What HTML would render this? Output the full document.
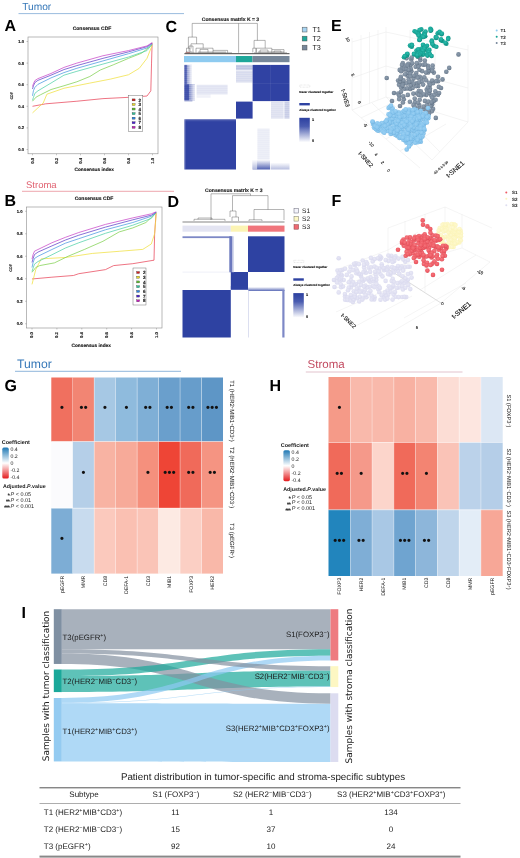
<!DOCTYPE html>
<html lang="en"><head><meta charset="utf-8"><title>Figure</title>
<style>
html,body{margin:0;padding:0;background:#fff;}
body{width:520px;height:858px;overflow:hidden;}
svg{display:block;}
text{font-family:"Liberation Sans", Arial, sans-serif;fill:#1a1a1a;text-rendering:geometricPrecision;}
.b{font-weight:bold;}
.t{stroke:#1a1a1a;stroke-width:0.14;}
.dj{font-family:"DejaVu Sans","Liberation Sans",sans-serif;}
</style></head><body>
<svg width="520" height="858" viewBox="0 0 520 858">
<defs>
<linearGradient id="gblue" x1="0" y1="0" x2="0" y2="1"><stop offset="0" stop-color="#2c40a0"/><stop offset="0.35" stop-color="#4a5cb0"/><stop offset="1" stop-color="#ffffff"/></linearGradient>
<linearGradient id="gcoef" x1="0" y1="0" x2="0" y2="1"><stop offset="0" stop-color="#1f78b4"/><stop offset="0.5" stop-color="#ffffff"/><stop offset="1" stop-color="#e31a1c"/></linearGradient>
<linearGradient id="fadeR" x1="0" y1="0" x2="1" y2="0"><stop offset="0" stop-color="#3044a4"/><stop offset="1" stop-color="#3044a4" stop-opacity="0"/></linearGradient>
<linearGradient id="fadeU" x1="0" y1="1" x2="0" y2="0"><stop offset="0" stop-color="#3044a4"/><stop offset="1" stop-color="#3044a4" stop-opacity="0"/></linearGradient>
<linearGradient id="fadeD" x1="0" y1="0" x2="0" y2="1"><stop offset="0" stop-color="#3044a4"/><stop offset="1" stop-color="#3044a4" stop-opacity="0"/></linearGradient>
</defs>
<rect width="520" height="858" fill="#fff"/>

<text x="22.2" y="10.4" font-size="10.2" style="fill:#3577b8">Tumor</text>
<line x1="18.5" y1="13.6" x2="184" y2="13.6" stroke="#6f9fd0" stroke-width="0.7"/>
<text x="26" y="187.5" font-size="9.5" style="fill:#e0606f">Stroma</text>
<line x1="22" y1="191.3" x2="174" y2="191.3" stroke="#e57f8b" stroke-width="0.7"/>
<text x="17" y="367.5" font-size="12.2" style="fill:#3577b8">Tumor</text>
<line x1="15" y1="371.3" x2="181" y2="371.3" stroke="#5f95cc" stroke-width="0.7"/>
<text x="307.6" y="368.3" font-size="11.5" style="fill:#c24a60">Stroma</text>
<line x1="305.8" y1="372" x2="462.5" y2="372" stroke="#dbb4c0" stroke-width="0.8"/>
<text class="b" x="4.5" y="31.2" font-size="16" style="fill:#000">A</text>
<text class="b" x="165.5" y="32" font-size="16" style="fill:#000">C</text>
<text class="b" x="331" y="31.2" font-size="16" style="fill:#000">E</text>
<text class="b" x="4.5" y="205.6" font-size="16" style="fill:#000">B</text>
<text class="b" x="167.5" y="207" font-size="16" style="fill:#000">D</text>
<text class="b" x="331.5" y="206" font-size="16" style="fill:#000">F</text>
<text class="b" x="4.5" y="390.6" font-size="16" style="fill:#000">G</text>
<text class="b" x="269.5" y="390.5" font-size="16" style="fill:#000">H</text>
<text class="b" x="21.5" y="618" font-size="16" style="fill:#000">I</text>
<rect x="28" y="37" width="130" height="116.80000000000001" fill="none" stroke="#8a8a8a" stroke-width="0.6"/>
<text class="b t" x="92" y="29.6" font-size="5" text-anchor="middle">Consensus CDF</text>
<line x1="26.5" y1="149.50" x2="28" y2="149.50" stroke="#777" stroke-width="0.4"/>
<text class="b t" x="24" y="151.00" font-size="4.15" text-anchor="end">0.0</text>
<line x1="32.50" y1="153.8" x2="32.50" y2="155.3" stroke="#777" stroke-width="0.4"/>
<text class="b t" transform="translate(33.90,160.8) rotate(-90)" font-size="4.15" text-anchor="middle">0.0</text>
<line x1="26.5" y1="127.90" x2="28" y2="127.90" stroke="#777" stroke-width="0.4"/>
<text class="b t" x="24" y="129.40" font-size="4.15" text-anchor="end">0.2</text>
<line x1="56.50" y1="153.8" x2="56.50" y2="155.3" stroke="#777" stroke-width="0.4"/>
<text class="b t" transform="translate(57.90,160.8) rotate(-90)" font-size="4.15" text-anchor="middle">0.2</text>
<line x1="26.5" y1="106.30" x2="28" y2="106.30" stroke="#777" stroke-width="0.4"/>
<text class="b t" x="24" y="107.80" font-size="4.15" text-anchor="end">0.4</text>
<line x1="80.50" y1="153.8" x2="80.50" y2="155.3" stroke="#777" stroke-width="0.4"/>
<text class="b t" transform="translate(81.90,160.8) rotate(-90)" font-size="4.15" text-anchor="middle">0.4</text>
<line x1="26.5" y1="84.70" x2="28" y2="84.70" stroke="#777" stroke-width="0.4"/>
<text class="b t" x="24" y="86.20" font-size="4.15" text-anchor="end">0.6</text>
<line x1="104.50" y1="153.8" x2="104.50" y2="155.3" stroke="#777" stroke-width="0.4"/>
<text class="b t" transform="translate(105.90,160.8) rotate(-90)" font-size="4.15" text-anchor="middle">0.6</text>
<line x1="26.5" y1="63.10" x2="28" y2="63.10" stroke="#777" stroke-width="0.4"/>
<text class="b t" x="24" y="64.60" font-size="4.15" text-anchor="end">0.8</text>
<line x1="128.50" y1="153.8" x2="128.50" y2="155.3" stroke="#777" stroke-width="0.4"/>
<text class="b t" transform="translate(129.90,160.8) rotate(-90)" font-size="4.15" text-anchor="middle">0.8</text>
<line x1="26.5" y1="41.50" x2="28" y2="41.50" stroke="#777" stroke-width="0.4"/>
<text class="b t" x="24" y="43.00" font-size="4.15" text-anchor="end">1.0</text>
<line x1="152.50" y1="153.8" x2="152.50" y2="155.3" stroke="#777" stroke-width="0.4"/>
<text class="b t" transform="translate(153.90,160.8) rotate(-90)" font-size="4.15" text-anchor="middle">1.0</text>
<text class="b t" transform="translate(13.4,95.8) rotate(-90)" font-size="3.7" text-anchor="middle">CDF</text>
<text class="b t" x="94.2" y="171.2" font-size="4.75" text-anchor="middle">Consensus index</text>
<path d="M32.50,106.30 L45.70,103.82 L76.90,101.22 L102.94,98.63 L128.50,97.34 L146.98,96.04 L150.82,90.86 L151.54,63.10 L152.14,42.80" fill="none" stroke="#e8465a" stroke-width="0.75" stroke-linejoin="round"/>
<path d="M32.50,112.89 L37.30,108.46 L43.18,103.06 L46.90,94.20 L63.94,88.26 L89.86,83.08 L110.50,79.08 L128.50,74.76 L139.30,68.28 L146.98,58.35 L152.14,45.39" fill="none" stroke="#f0e040" stroke-width="0.75" stroke-linejoin="round"/>
<path d="M32.50,101.22 L36.10,97.12 L40.54,94.74 L50.98,89.56 L63.94,85.78 L76.90,81.78 L89.86,76.49 L100.30,70.01 L113.26,64.83 L128.50,58.35 L141.70,53.16 L152.14,44.74" fill="none" stroke="#80d050" stroke-width="0.75" stroke-linejoin="round"/>
<path d="M32.50,100.36 L33.46,97.34 L34.90,93.34 L37.90,90.86 L50.98,83.08 L63.94,75.20 L76.90,71.31 L102.94,64.07 L128.50,57.05 L146.98,50.57 L152.14,44.20" fill="none" stroke="#50d0a8" stroke-width="0.75" stroke-linejoin="round"/>
<path d="M32.50,95.82 L33.46,90.64 L34.90,87.40 L37.90,84.38 L50.98,77.90 L63.94,72.60 L76.90,68.28 L102.94,60.94 L128.50,53.70 L146.98,47.98 L152.14,43.66" fill="none" stroke="#4a98e0" stroke-width="0.75" stroke-linejoin="round"/>
<path d="M32.50,89.02 L33.46,85.78 L34.90,82.54 L37.90,80.38 L50.98,75.20 L63.94,69.58 L76.90,65.58 L102.94,58.35 L128.50,51.87 L146.98,46.68 L152.14,43.12" fill="none" stroke="#6040c8" stroke-width="0.75" stroke-linejoin="round"/>
<path d="M32.50,86.54 L33.46,83.62 L34.90,80.60 L37.90,78.65 L50.98,73.47 L63.94,67.42 L76.90,63.10 L102.94,55.76 L128.50,50.57 L146.98,45.93 L152.14,42.58" fill="none" stroke="#c848c8" stroke-width="0.75" stroke-linejoin="round"/>
<rect x="128.5" y="95.4" width="14.300000000000011" height="36.099999999999994" fill="#fff" stroke="#555" stroke-width="0.4"/>
<rect x="132.1" y="98.90" width="3" height="2" fill="#d01f1f" stroke="#333" stroke-width="0.3"/>
<text class="b t" x="138.5" y="101.50" font-size="4.5">2</text>
<rect x="132.1" y="103.47" width="3" height="2" fill="#e8d82a" stroke="#333" stroke-width="0.3"/>
<text class="b t" x="138.5" y="106.07" font-size="4.5">3</text>
<rect x="132.1" y="108.03" width="3" height="2" fill="#5fc030" stroke="#333" stroke-width="0.3"/>
<text class="b t" x="138.5" y="110.63" font-size="4.5">4</text>
<rect x="132.1" y="112.60" width="3" height="2" fill="#2fc09a" stroke="#333" stroke-width="0.3"/>
<text class="b t" x="138.5" y="115.20" font-size="4.5">5</text>
<rect x="132.1" y="117.17" width="3" height="2" fill="#2a80e0" stroke="#333" stroke-width="0.3"/>
<text class="b t" x="138.5" y="119.77" font-size="4.5">6</text>
<rect x="132.1" y="121.73" width="3" height="2" fill="#4a20d0" stroke="#333" stroke-width="0.3"/>
<text class="b t" x="138.5" y="124.33" font-size="4.5">7</text>
<rect x="132.1" y="126.30" width="3" height="2" fill="#c020b8" stroke="#333" stroke-width="0.3"/>
<text class="b t" x="138.5" y="128.90" font-size="4.5">8</text>
<rect x="26.5" y="207" width="135.5" height="121" fill="none" stroke="#8a8a8a" stroke-width="0.6"/>
<text class="b t" x="94" y="199.7" font-size="5" text-anchor="middle">Consensus CDF</text>
<line x1="25.0" y1="323.75" x2="26.5" y2="323.75" stroke="#777" stroke-width="0.4"/>
<text class="b t" x="22.5" y="325.25" font-size="4.15" text-anchor="end">0.0</text>
<line x1="32.00" y1="328" x2="32.00" y2="329.5" stroke="#777" stroke-width="0.4"/>
<text class="b t" transform="translate(33.40,335) rotate(-90)" font-size="4.15" text-anchor="middle">0.0</text>
<line x1="25.0" y1="301.25" x2="26.5" y2="301.25" stroke="#777" stroke-width="0.4"/>
<text class="b t" x="22.5" y="302.75" font-size="4.15" text-anchor="end">0.2</text>
<line x1="56.90" y1="328" x2="56.90" y2="329.5" stroke="#777" stroke-width="0.4"/>
<text class="b t" transform="translate(58.30,335) rotate(-90)" font-size="4.15" text-anchor="middle">0.2</text>
<line x1="25.0" y1="278.75" x2="26.5" y2="278.75" stroke="#777" stroke-width="0.4"/>
<text class="b t" x="22.5" y="280.25" font-size="4.15" text-anchor="end">0.4</text>
<line x1="81.80" y1="328" x2="81.80" y2="329.5" stroke="#777" stroke-width="0.4"/>
<text class="b t" transform="translate(83.20,335) rotate(-90)" font-size="4.15" text-anchor="middle">0.4</text>
<line x1="25.0" y1="256.25" x2="26.5" y2="256.25" stroke="#777" stroke-width="0.4"/>
<text class="b t" x="22.5" y="257.75" font-size="4.15" text-anchor="end">0.6</text>
<line x1="106.70" y1="328" x2="106.70" y2="329.5" stroke="#777" stroke-width="0.4"/>
<text class="b t" transform="translate(108.10,335) rotate(-90)" font-size="4.15" text-anchor="middle">0.6</text>
<line x1="25.0" y1="233.75" x2="26.5" y2="233.75" stroke="#777" stroke-width="0.4"/>
<text class="b t" x="22.5" y="235.25" font-size="4.15" text-anchor="end">0.8</text>
<line x1="131.60" y1="328" x2="131.60" y2="329.5" stroke="#777" stroke-width="0.4"/>
<text class="b t" transform="translate(133.00,335) rotate(-90)" font-size="4.15" text-anchor="middle">0.8</text>
<line x1="25.0" y1="211.25" x2="26.5" y2="211.25" stroke="#777" stroke-width="0.4"/>
<text class="b t" x="22.5" y="212.75" font-size="4.15" text-anchor="end">1.0</text>
<line x1="156.50" y1="328" x2="156.50" y2="329.5" stroke="#777" stroke-width="0.4"/>
<text class="b t" transform="translate(157.90,335) rotate(-90)" font-size="4.15" text-anchor="middle">1.0</text>
<text class="b t" transform="translate(11.9,267.9) rotate(-90)" font-size="3.7" text-anchor="middle">CDF</text>
<text class="b t" x="91.2" y="347" font-size="4.75" text-anchor="middle">Consensus index</text>
<path d="M32.00,278.98 L51.92,277.18 L73.46,275.49 L78.81,273.69 L105.45,269.64 L113.67,265.59 L132.85,263.68 L154.01,260.19 L154.63,233.75 L156.13,212.49" fill="none" stroke="#e8465a" stroke-width="0.75" stroke-linejoin="round"/>
<path d="M32.00,284.38 L35.73,269.64 L41.21,258.84 L65.37,257.49 L92.26,253.44 L119.15,251.30 L142.81,249.39 L151.27,243.99 L154.63,233.75 L155.63,221.38 L156.13,212.94" fill="none" stroke="#f0e040" stroke-width="0.75" stroke-linejoin="round"/>
<path d="M32.00,272.34 L35.73,267.50 L39.72,265.59 L54.41,262.89 L68.10,256.25 L84.29,249.50 L102.96,241.29 L119.15,231.95 L132.85,227.90 L145.92,222.50 L156.13,212.94" fill="none" stroke="#80d050" stroke-width="0.75" stroke-linejoin="round"/>
<path d="M32.00,271.44 L33.00,268.29 L34.49,264.12 L37.98,261.54 L51.92,254.79 L65.37,248.04 L78.81,242.75 L105.45,233.30 L132.85,225.20 L151.27,218.45 L156.13,212.60" fill="none" stroke="#50d0a8" stroke-width="0.75" stroke-linejoin="round"/>
<path d="M32.00,267.50 L33.00,262.89 L34.49,258.50 L37.98,256.25 L51.92,249.50 L65.37,243.20 L78.81,238.70 L105.45,229.81 L132.85,222.50 L151.27,216.31 L156.13,212.38" fill="none" stroke="#4a98e0" stroke-width="0.75" stroke-linejoin="round"/>
<path d="M32.00,262.44 L33.00,258.84 L34.49,254.56 L37.98,252.09 L51.92,245.90 L65.37,240.05 L78.81,235.21 L105.45,227.11 L132.85,219.80 L151.27,215.19 L156.13,212.15" fill="none" stroke="#6040c8" stroke-width="0.75" stroke-linejoin="round"/>
<path d="M32.00,259.06 L33.00,254.79 L34.49,251.19 L37.98,249.50 L51.92,242.75 L65.37,237.35 L78.81,232.51 L105.45,224.41 L132.85,217.89 L151.27,213.84 L156.13,211.81" fill="none" stroke="#c848c8" stroke-width="0.75" stroke-linejoin="round"/>
<rect x="133" y="268" width="13" height="37" fill="#fff" stroke="#555" stroke-width="0.4"/>
<rect x="136.6" y="271.50" width="3" height="2" fill="#d01f1f" stroke="#333" stroke-width="0.3"/>
<text class="b t" x="143" y="274.10" font-size="4.5">2</text>
<rect x="136.6" y="276.22" width="3" height="2" fill="#e8d82a" stroke="#333" stroke-width="0.3"/>
<text class="b t" x="143" y="278.82" font-size="4.5">3</text>
<rect x="136.6" y="280.93" width="3" height="2" fill="#5fc030" stroke="#333" stroke-width="0.3"/>
<text class="b t" x="143" y="283.53" font-size="4.5">4</text>
<rect x="136.6" y="285.65" width="3" height="2" fill="#2fc09a" stroke="#333" stroke-width="0.3"/>
<text class="b t" x="143" y="288.25" font-size="4.5">5</text>
<rect x="136.6" y="290.37" width="3" height="2" fill="#2a80e0" stroke="#333" stroke-width="0.3"/>
<text class="b t" x="143" y="292.97" font-size="4.5">6</text>
<rect x="136.6" y="295.08" width="3" height="2" fill="#4a20d0" stroke="#333" stroke-width="0.3"/>
<text class="b t" x="143" y="297.68" font-size="4.5">7</text>
<rect x="136.6" y="299.80" width="3" height="2" fill="#c020b8" stroke="#333" stroke-width="0.3"/>
<text class="b t" x="143" y="302.40" font-size="4.5">8</text>
<text class="b t" x="230.5" y="21.4" font-size="5.05" text-anchor="middle">Consensus matrix K = 3</text>
<path d="M192.2,37.1 V23.4 H257.4 V40.4" fill="none" stroke="#444" stroke-width="0.4"/>
<path d="M238.6,23.4 V52.8" fill="none" stroke="#444" stroke-width="0.4"/>
<path d="M188.4,48.2 V37.1 H196.6 V43.8 M191,48.5 V43.8 H203.2 V48.2 M186.5,52 V48.2 H190 V52 M189,51 V46 H193 V51 M196,52.5 V48.2 H213 V50.4 H227.6 V52.8 M200,52.5 V49.4 H208 V52.5 M213,50.4 V52.8" fill="none" stroke="#444" stroke-width="0.4"/>
<path d="M254.1,48.2 V40.4 H265.2 V48.2 M252.8,52.5 V48.2 H256 V52.5 M256.3,52.5 V48.2 H271.8 V49.6 H284 V52.8 M260,52.5 V50 H268 V52.5 M271.8,49.6 V52.8 M274,52.5 V51 H281 V52.5" fill="none" stroke="#444" stroke-width="0.4"/>
<path d="M184.4,53.7 H289.5" fill="none" stroke="#333" stroke-width="0.9"/>
<path d="M185.5,52.9 H232 M254,52.9 H287 M186,52 H194 M198,52.1 H226 M258,52 H284" fill="none" stroke="#555" stroke-width="0.5"/>
<path d="M185.5,52.6 H190" fill="none" stroke="#a55" stroke-width="0.6"/>
<rect x="184" y="56" width="52" height="6.2" fill="#8ecbf0"/>
<rect x="236" y="56" width="16.5" height="6.2" fill="#1fa79a"/>
<rect x="252.5" y="56" width="37" height="6.2" fill="#76879a"/>
<defs><pattern id="hs" width="8" height="2" patternUnits="userSpaceOnUse"><rect width="8" height="2" fill="#3042a3" opacity="0.62"/><rect width="8" height="1" fill="#3042a3" opacity="0.3"/></pattern>
<linearGradient id="fadeR2" x1="0" y1="0" x2="1" y2="0"><stop offset="0" stop-color="#fff" stop-opacity="0"/><stop offset="1" stop-color="#fff" stop-opacity="1"/></linearGradient></defs>
<rect x="252.6" y="64.9" width="36.9" height="36.2" fill="#3042a3"/>
<rect x="236" y="101.6" width="16.6" height="17" fill="#3042a3"/>
<rect x="184.4" y="119.3" width="51.6" height="50.2" fill="#3042a3"/>
<rect x="270.5" y="64.9" width="0.5" height="36.2" fill="#fff" opacity="0.12"/>
<rect x="252.6" y="83" width="36.9" height="0.5" fill="#fff" opacity="0.12"/>
<rect x="184.4" y="64.9" width="7.5" height="19.4" fill="url(#hs)" opacity="0.9"/>
<rect x="186" y="64.9" width="5.9" height="19.4" fill="url(#fadeR2)"/>
<rect x="184.4" y="64.9" width="2.4" height="19.4" fill="#3042a3" opacity="0.55"/>
<rect x="184.4" y="84.3" width="10.5" height="16" fill="url(#hs)" opacity="0.95"/>
<rect x="184.4" y="84.3" width="4.5" height="16" fill="#3042a3" opacity="0.75"/>
<rect x="188.5" y="84.3" width="6.4" height="16" fill="url(#fadeR2)" opacity="0.9"/>
<rect x="184.4" y="100.3" width="8" height="1.2" fill="#3042a3" opacity="0.4"/>
<rect x="196.6" y="84.8" width="31" height="9.6" fill="url(#hs)" opacity="0.2"/>
<rect x="196.6" y="94.4" width="14" height="3.5" fill="url(#hs)" opacity="0.1"/>
<rect x="236" y="64.9" width="16.6" height="5" fill="url(#hs)" opacity="0.42"/>
<rect x="236" y="70.5" width="16.6" height="12" fill="url(#hs)" opacity="0.26"/>
<rect x="271" y="101.6" width="12.6" height="17" fill="url(#hs)" opacity="0.22"/>
<rect x="284.4" y="101.6" width="5.1" height="17" fill="url(#hs)" opacity="0.36"/>
<rect x="257.4" y="128.6" width="12.2" height="31" fill="url(#hs)" opacity="0.14"/>
<rect x="252.6" y="159.6" width="17.4" height="9.9" fill="url(#fadeU)" opacity="0.85"/>
<rect x="252.6" y="159.6" width="4.5" height="9.9" fill="#fff" opacity="0.55"/>
<rect x="270.6" y="162.5" width="18.9" height="7" fill="url(#fadeU)" opacity="0.35"/>
<rect x="184.4" y="119.3" width="51.6" height="2" fill="#fff" opacity="0.10"/>
<rect x="184.4" y="119.3" width="1.6" height="50.2" fill="#fff" opacity="0.12"/>
<rect x="302.2" y="27.2" width="4.8" height="4.8" fill="#a6d4f2" stroke="#555" stroke-width="0.5"/>
<text x="312.4" y="32.3" font-size="7.2">T1</text>
<rect x="302.2" y="36.199999999999996" width="4.8" height="4.8" fill="#1fa79a" stroke="#555" stroke-width="0.5"/>
<text x="312.4" y="41.3" font-size="7.2">T2</text>
<rect x="302.2" y="45.199999999999996" width="4.8" height="4.8" fill="#76879a" stroke="#555" stroke-width="0.5"/>
<text x="312.4" y="50.3" font-size="7.2">T3</text>
<rect x="299.8" y="85" width="10" height="2.2" fill="#fff" stroke="#bbb" stroke-width="0.35" stroke-dasharray="0.8,0.6"/>
<text class="b t" x="299.3" y="92.9" font-size="2.9">Never clustered together</text>
<rect x="299.3" y="103" width="10.5" height="2.4" fill="#2e42a2"/>
<text class="b t" x="299.3" y="110.6" font-size="2.95">Always clustered together</text>
<rect x="299.3" y="117.8" width="10.5" height="24.5" fill="url(#gblue)"/>
<text class="b t" x="312.1" y="121" font-size="3.8">1</text>
<text class="b t" x="312.1" y="142.2" font-size="3.8">0</text>
<text class="b t" x="233.8" y="191.9" font-size="5.05" text-anchor="middle">Consensus matrix K = 3</text>
<path d="M211,220 V193.8 H250.5 V195.6 M232.5,211 V195.6 H268 V209.5 M254,220 V209.5 H284 V220" fill="none" stroke="#444" stroke-width="0.4"/>
<path d="M230,217 V211 H236 V217 M232,221 V217 H238.5 V221" fill="none" stroke="#444" stroke-width="0.4"/>
<path d="M194,221 V219.3 H225 V221 M198,219.3 V218 H212 V219.3 M249,221 V219.8 H262 V221" fill="none" stroke="#444" stroke-width="0.4"/>
<path d="M182.5,222 H284.5" fill="none" stroke="#333" stroke-width="0.6"/>
<rect x="182.5" y="225.6" width="48.3" height="6.1" fill="#e3e4f2"/>
<rect x="230.8" y="225.6" width="17.2" height="6.1" fill="#fcf4b4"/>
<rect x="248" y="225.6" width="36.5" height="6.1" fill="#f0757c"/>
<rect x="248" y="236.3" width="36.5" height="35.7" fill="#2e42a2"/>
<rect x="230.8" y="272" width="17.2" height="17.6" fill="#2e42a2"/>
<rect x="182.5" y="290" width="48.3" height="47.5" fill="#2e42a2"/>
<rect x="182.5" y="236.3" width="49" height="1.8" fill="#7d88c6"/>
<rect x="229.3" y="236.3" width="3.2" height="36" fill="#6c79be"/>
<rect x="232.5" y="236.3" width="1.2" height="36" fill="#c5cae6"/>
<rect x="248" y="287" width="36.5" height="4" fill="url(#fadeU)" opacity="0.8"/>
<rect x="282.3" y="290" width="2.2" height="47.5" fill="#7d88c6"/>
<rect x="248.2" y="290" width="0.6" height="47.5" fill="#c5cae6"/>
<rect x="182.5" y="271.8" width="47" height="0.5" fill="#dfe2f1"/>
<rect x="230.8" y="286" width="17.2" height="4" fill="#3044a4" opacity="0.5"/>
<rect x="294" y="208.39999999999998" width="4.6" height="4.6" fill="#f4f4fb" stroke="#667" stroke-width="0.5"/>
<text x="302" y="213.2" font-size="6.6">S1</text>
<rect x="294" y="216.49999999999997" width="4.6" height="4.6" fill="#fdf8c6" stroke="#776" stroke-width="0.5"/>
<text x="302" y="221.3" font-size="6.6">S2</text>
<rect x="294" y="224.59999999999997" width="4.6" height="4.6" fill="#ee6a72" stroke="#844" stroke-width="0.5"/>
<text x="302" y="229.4" font-size="6.6">S3</text>
<rect x="293.8" y="260.3" width="10" height="2.2" fill="#fff" stroke="#bbb" stroke-width="0.35" stroke-dasharray="0.8,0.6"/>
<text class="b t" x="293.3" y="268.2" font-size="2.9">Never clustered together</text>
<rect x="293.3" y="278.3" width="10.5" height="2.4" fill="#2e42a2"/>
<text class="b t" x="293.3" y="285.90000000000003" font-size="2.95">Always clustered together</text>
<rect x="293.3" y="293.1" width="10.5" height="24.5" fill="url(#gblue)"/>
<text class="b t" x="306.1" y="296.3" font-size="3.8">1</text>
<text class="b t" x="306.1" y="317.5" font-size="3.8">0</text>
<defs>
<radialGradient id="rT1" cx="0.45" cy="0.4" r="0.6"><stop offset="0" stop-color="#9bd0f3"/><stop offset="0.7" stop-color="#86c5ee"/><stop offset="1" stop-color="#6fb0dd"/></radialGradient>
<radialGradient id="rT2" cx="0.45" cy="0.4" r="0.6"><stop offset="0" stop-color="#2cbcae"/><stop offset="0.7" stop-color="#18a596"/><stop offset="1" stop-color="#0f877b"/></radialGradient>
<radialGradient id="rT3" cx="0.45" cy="0.4" r="0.6"><stop offset="0" stop-color="#8c9bab"/><stop offset="0.7" stop-color="#76879a"/><stop offset="1" stop-color="#5c6c7e"/></radialGradient>
<radialGradient id="rS1" cx="0.45" cy="0.4" r="0.6"><stop offset="0" stop-color="#f4737a"/><stop offset="0.7" stop-color="#ee5a64"/><stop offset="1" stop-color="#d94852"/></radialGradient>
<radialGradient id="rS2" cx="0.45" cy="0.4" r="0.6"><stop offset="0" stop-color="#fef9cf"/><stop offset="1" stop-color="#fbf3b4"/></radialGradient>
<radialGradient id="rS3" cx="0.45" cy="0.4" r="0.6"><stop offset="0" stop-color="#e6e6f5"/><stop offset="1" stop-color="#d8d8ee"/></radialGradient>
</defs>
<path d="M386,27 L386,97" fill="none" stroke="#e9e9e9" stroke-width="0.5"/>
<path d="M352,38 L352,110" fill="none" stroke="#e9e9e9" stroke-width="0.5"/>
<path d="M361,35 L361,107" fill="none" stroke="#e9e9e9" stroke-width="0.5"/>
<path d="M369.5,32 L369.5,104" fill="none" stroke="#e9e9e9" stroke-width="0.5"/>
<path d="M378,30 L378,100" fill="none" stroke="#e9e9e9" stroke-width="0.5"/>
<path d="M352,42 L386,32 L468,50" fill="none" stroke="#e9e9e9" stroke-width="0.5"/>
<path d="M352,78 L386,66 L468,88" fill="none" stroke="#e9e9e9" stroke-width="0.5"/>
<path d="M352,110 L386,97 L468,122" fill="none" stroke="#e9e9e9" stroke-width="0.5"/>
<path d="M352,110 L420,168" fill="none" stroke="#e9e9e9" stroke-width="0.5"/>
<path d="M468,122 L432,160" fill="none" stroke="#e9e9e9" stroke-width="0.5"/>
<path d="M386,97 L440,152" fill="none" stroke="#e9e9e9" stroke-width="0.5"/>
<path d="M372,103 L432,160" fill="none" stroke="#e9e9e9" stroke-width="0.5"/>
<path d="M410,30 L410,104" fill="none" stroke="#e9e9e9" stroke-width="0.5"/>
<path d="M435,36 L435,112" fill="none" stroke="#e9e9e9" stroke-width="0.5"/>
<path d="M468,45 L468,122" fill="none" stroke="#e9e9e9" stroke-width="0.5"/>
<path d="M361,118 L398,100" fill="none" stroke="#e9e9e9" stroke-width="0.5"/>
<path d="M373,128 L412,108" fill="none" stroke="#e9e9e9" stroke-width="0.5"/>
<path d="M386,139 L428,116" fill="none" stroke="#e9e9e9" stroke-width="0.5"/>
<path d="M400,151 L446,124" fill="none" stroke="#e9e9e9" stroke-width="0.5"/>
<circle cx="410.6" cy="64.9" r="2.3" fill="url(#rT3)" fill-opacity="0.95"/>
<circle cx="424.8" cy="60.5" r="2.3" fill="url(#rT3)" fill-opacity="0.95"/>
<circle cx="419.8" cy="76.8" r="2.3" fill="url(#rT3)" fill-opacity="0.95"/>
<circle cx="399.0" cy="84.7" r="2.3" fill="url(#rT3)" fill-opacity="0.95"/>
<circle cx="398.1" cy="80.6" r="2.3" fill="url(#rT3)" fill-opacity="0.95"/>
<circle cx="415.0" cy="102.4" r="2.3" fill="url(#rT3)" fill-opacity="0.95"/>
<circle cx="401.9" cy="68.9" r="2.3" fill="url(#rT3)" fill-opacity="0.95"/>
<circle cx="423.8" cy="109.1" r="2.3" fill="url(#rT3)" fill-opacity="0.95"/>
<circle cx="421.6" cy="78.5" r="2.3" fill="url(#rT3)" fill-opacity="0.95"/>
<circle cx="433.8" cy="72.6" r="2.3" fill="url(#rT3)" fill-opacity="0.95"/>
<circle cx="402.8" cy="63.0" r="2.3" fill="url(#rT3)" fill-opacity="0.95"/>
<circle cx="409.9" cy="101.8" r="2.3" fill="url(#rT3)" fill-opacity="0.95"/>
<circle cx="404.4" cy="88.8" r="2.3" fill="url(#rT3)" fill-opacity="0.95"/>
<circle cx="424.3" cy="77.2" r="2.3" fill="url(#rT3)" fill-opacity="0.95"/>
<circle cx="420.3" cy="60.0" r="2.3" fill="url(#rT3)" fill-opacity="0.95"/>
<circle cx="426.1" cy="80.2" r="2.3" fill="url(#rT3)" fill-opacity="0.95"/>
<circle cx="410.2" cy="89.0" r="2.3" fill="url(#rT3)" fill-opacity="0.95"/>
<circle cx="416.2" cy="73.1" r="2.3" fill="url(#rT3)" fill-opacity="0.95"/>
<circle cx="431.1" cy="95.3" r="2.3" fill="url(#rT3)" fill-opacity="0.95"/>
<circle cx="407.1" cy="88.4" r="2.3" fill="url(#rT3)" fill-opacity="0.95"/>
<circle cx="419.3" cy="105.1" r="2.3" fill="url(#rT3)" fill-opacity="0.95"/>
<circle cx="428.2" cy="72.5" r="2.3" fill="url(#rT3)" fill-opacity="0.95"/>
<circle cx="414.7" cy="98.5" r="2.3" fill="url(#rT3)" fill-opacity="0.95"/>
<circle cx="403.1" cy="83.6" r="2.3" fill="url(#rT3)" fill-opacity="0.95"/>
<circle cx="398.2" cy="93.6" r="2.3" fill="url(#rT3)" fill-opacity="0.95"/>
<circle cx="429.8" cy="88.3" r="2.3" fill="url(#rT3)" fill-opacity="0.95"/>
<circle cx="426.7" cy="89.5" r="2.3" fill="url(#rT3)" fill-opacity="0.95"/>
<circle cx="421.7" cy="81.8" r="2.3" fill="url(#rT3)" fill-opacity="0.95"/>
<circle cx="433.0" cy="108.9" r="2.3" fill="url(#rT3)" fill-opacity="0.95"/>
<circle cx="417.1" cy="93.4" r="2.3" fill="url(#rT3)" fill-opacity="0.95"/>
<circle cx="399.1" cy="95.4" r="2.3" fill="url(#rT3)" fill-opacity="0.95"/>
<circle cx="413.3" cy="93.6" r="2.3" fill="url(#rT3)" fill-opacity="0.95"/>
<circle cx="399.1" cy="99.1" r="2.3" fill="url(#rT3)" fill-opacity="0.95"/>
<circle cx="413.5" cy="104.9" r="2.3" fill="url(#rT3)" fill-opacity="0.95"/>
<circle cx="400.0" cy="81.4" r="2.3" fill="url(#rT3)" fill-opacity="0.95"/>
<circle cx="432.1" cy="104.5" r="2.3" fill="url(#rT3)" fill-opacity="0.95"/>
<circle cx="408.6" cy="79.5" r="2.3" fill="url(#rT3)" fill-opacity="0.95"/>
<circle cx="404.2" cy="69.4" r="2.3" fill="url(#rT3)" fill-opacity="0.95"/>
<circle cx="406.7" cy="83.4" r="2.3" fill="url(#rT3)" fill-opacity="0.95"/>
<circle cx="422.1" cy="71.1" r="2.3" fill="url(#rT3)" fill-opacity="0.95"/>
<circle cx="412.6" cy="87.9" r="2.3" fill="url(#rT3)" fill-opacity="0.95"/>
<circle cx="438.0" cy="94.8" r="2.3" fill="url(#rT3)" fill-opacity="0.95"/>
<circle cx="418.9" cy="90.8" r="2.3" fill="url(#rT3)" fill-opacity="0.95"/>
<circle cx="435.6" cy="99.8" r="2.3" fill="url(#rT3)" fill-opacity="0.95"/>
<circle cx="413.6" cy="78.6" r="2.3" fill="url(#rT3)" fill-opacity="0.95"/>
<circle cx="401.0" cy="91.7" r="2.3" fill="url(#rT3)" fill-opacity="0.95"/>
<circle cx="405.6" cy="65.5" r="2.3" fill="url(#rT3)" fill-opacity="0.95"/>
<circle cx="411.3" cy="59.4" r="2.3" fill="url(#rT3)" fill-opacity="0.95"/>
<circle cx="400.9" cy="76.7" r="2.3" fill="url(#rT3)" fill-opacity="0.95"/>
<circle cx="423.2" cy="64.7" r="2.3" fill="url(#rT3)" fill-opacity="0.95"/>
<circle cx="407.5" cy="75.8" r="2.3" fill="url(#rT3)" fill-opacity="0.95"/>
<circle cx="412.3" cy="63.3" r="2.3" fill="url(#rT3)" fill-opacity="0.95"/>
<circle cx="416.8" cy="83.4" r="2.3" fill="url(#rT3)" fill-opacity="0.95"/>
<circle cx="411.4" cy="71.2" r="2.3" fill="url(#rT3)" fill-opacity="0.95"/>
<circle cx="432.6" cy="65.5" r="2.3" fill="url(#rT3)" fill-opacity="0.95"/>
<circle cx="419.5" cy="64.6" r="2.3" fill="url(#rT3)" fill-opacity="0.95"/>
<circle cx="420.1" cy="58.0" r="2.3" fill="url(#rT3)" fill-opacity="0.95"/>
<circle cx="419.5" cy="110.8" r="2.3" fill="url(#rT3)" fill-opacity="0.95"/>
<circle cx="434.1" cy="95.1" r="2.3" fill="url(#rT3)" fill-opacity="0.95"/>
<circle cx="403.8" cy="99.3" r="2.3" fill="url(#rT3)" fill-opacity="0.95"/>
<circle cx="419.7" cy="99.7" r="2.3" fill="url(#rT3)" fill-opacity="0.95"/>
<circle cx="410.8" cy="68.9" r="2.3" fill="url(#rT3)" fill-opacity="0.95"/>
<circle cx="431.8" cy="111.2" r="2.3" fill="url(#rT3)" fill-opacity="0.95"/>
<circle cx="433.6" cy="101.2" r="2.3" fill="url(#rT3)" fill-opacity="0.95"/>
<circle cx="432.1" cy="97.6" r="2.3" fill="url(#rT3)" fill-opacity="0.95"/>
<circle cx="407.8" cy="94.9" r="2.3" fill="url(#rT3)" fill-opacity="0.95"/>
<circle cx="438.1" cy="81.3" r="2.3" fill="url(#rT3)" fill-opacity="0.95"/>
<circle cx="438.0" cy="76.7" r="2.3" fill="url(#rT3)" fill-opacity="0.95"/>
<circle cx="406.1" cy="69.1" r="2.3" fill="url(#rT3)" fill-opacity="0.95"/>
<circle cx="423.6" cy="106.5" r="2.3" fill="url(#rT3)" fill-opacity="0.95"/>
<circle cx="433.1" cy="83.1" r="2.3" fill="url(#rT3)" fill-opacity="0.95"/>
<circle cx="424.9" cy="100.9" r="2.3" fill="url(#rT3)" fill-opacity="0.95"/>
<circle cx="429.1" cy="83.0" r="2.3" fill="url(#rT3)" fill-opacity="0.95"/>
<circle cx="414.0" cy="109.0" r="2.3" fill="url(#rT3)" fill-opacity="0.95"/>
<circle cx="428.0" cy="65.9" r="2.3" fill="url(#rT3)" fill-opacity="0.95"/>
<circle cx="402.0" cy="64.9" r="2.3" fill="url(#rT3)" fill-opacity="0.95"/>
<circle cx="402.9" cy="102.4" r="2.3" fill="url(#rT3)" fill-opacity="0.95"/>
<circle cx="439.1" cy="93.0" r="2.3" fill="url(#rT3)" fill-opacity="0.95"/>
<circle cx="419.4" cy="108.3" r="2.3" fill="url(#rT3)" fill-opacity="0.95"/>
<circle cx="432.4" cy="68.2" r="2.3" fill="url(#rT3)" fill-opacity="0.95"/>
<circle cx="407.5" cy="72.8" r="2.3" fill="url(#rT3)" fill-opacity="0.95"/>
<circle cx="411.9" cy="81.9" r="2.3" fill="url(#rT3)" fill-opacity="0.95"/>
<circle cx="418.3" cy="86.0" r="2.3" fill="url(#rT3)" fill-opacity="0.95"/>
<circle cx="415.6" cy="66.7" r="2.3" fill="url(#rT3)" fill-opacity="0.95"/>
<circle cx="428.0" cy="87.4" r="2.3" fill="url(#rT3)" fill-opacity="0.95"/>
<circle cx="410.7" cy="85.3" r="2.3" fill="url(#rT3)" fill-opacity="0.95"/>
<circle cx="401.1" cy="87.6" r="2.3" fill="url(#rT3)" fill-opacity="0.95"/>
<circle cx="430.1" cy="84.7" r="2.3" fill="url(#rT3)" fill-opacity="0.95"/>
<circle cx="436.2" cy="81.1" r="2.3" fill="url(#rT3)" fill-opacity="0.95"/>
<circle cx="423.1" cy="84.6" r="2.3" fill="url(#rT3)" fill-opacity="0.95"/>
<circle cx="418.8" cy="94.9" r="2.3" fill="url(#rT3)" fill-opacity="0.95"/>
<circle cx="416.2" cy="86.1" r="2.3" fill="url(#rT3)" fill-opacity="0.95"/>
<circle cx="417.3" cy="108.8" r="2.3" fill="url(#rT3)" fill-opacity="0.95"/>
<circle cx="426.9" cy="105.1" r="2.3" fill="url(#rT3)" fill-opacity="0.95"/>
<circle cx="399.7" cy="69.9" r="2.3" fill="url(#rT3)" fill-opacity="0.95"/>
<circle cx="430.6" cy="106.3" r="2.3" fill="url(#rT3)" fill-opacity="0.95"/>
<circle cx="403.2" cy="96.2" r="2.3" fill="url(#rT3)" fill-opacity="0.95"/>
<circle cx="425.2" cy="64.4" r="2.3" fill="url(#rT3)" fill-opacity="0.95"/>
<circle cx="413.8" cy="83.5" r="2.3" fill="url(#rT3)" fill-opacity="0.95"/>
<circle cx="403.5" cy="80.4" r="2.3" fill="url(#rT3)" fill-opacity="0.95"/>
<circle cx="405.0" cy="74.2" r="2.3" fill="url(#rT3)" fill-opacity="0.95"/>
<circle cx="401.1" cy="71.2" r="2.3" fill="url(#rT3)" fill-opacity="0.95"/>
<circle cx="408.3" cy="63.7" r="2.3" fill="url(#rT3)" fill-opacity="0.95"/>
<circle cx="414.9" cy="107.1" r="2.3" fill="url(#rT3)" fill-opacity="0.95"/>
<circle cx="432.1" cy="70.9" r="2.3" fill="url(#rT3)" fill-opacity="0.95"/>
<circle cx="421.3" cy="95.4" r="2.3" fill="url(#rT3)" fill-opacity="0.95"/>
<circle cx="416.2" cy="75.3" r="2.3" fill="url(#rT3)" fill-opacity="0.95"/>
<circle cx="419.4" cy="69.7" r="2.3" fill="url(#rT3)" fill-opacity="0.95"/>
<circle cx="410.1" cy="73.4" r="2.3" fill="url(#rT3)" fill-opacity="0.95"/>
<circle cx="418.3" cy="66.4" r="2.3" fill="url(#rT3)" fill-opacity="0.95"/>
<circle cx="411.6" cy="57.5" r="2.3" fill="url(#rT3)" fill-opacity="0.95"/>
<circle cx="432.1" cy="80.5" r="2.3" fill="url(#rT3)" fill-opacity="0.95"/>
<circle cx="418.0" cy="102.8" r="2.3" fill="url(#rT3)" fill-opacity="0.95"/>
<circle cx="426.4" cy="111.0" r="2.3" fill="url(#rT3)" fill-opacity="0.95"/>
<circle cx="427.2" cy="91.8" r="2.3" fill="url(#rT3)" fill-opacity="0.95"/>
<circle cx="414.1" cy="75.8" r="2.3" fill="url(#rT3)" fill-opacity="0.95"/>
<circle cx="407.6" cy="65.6" r="2.3" fill="url(#rT3)" fill-opacity="0.95"/>
<circle cx="408.8" cy="69.9" r="2.3" fill="url(#rT3)" fill-opacity="0.95"/>
<circle cx="409.2" cy="82.0" r="2.3" fill="url(#rT3)" fill-opacity="0.95"/>
<circle cx="438.8" cy="86.9" r="2.3" fill="url(#rT3)" fill-opacity="0.95"/>
<circle cx="410.0" cy="76.3" r="2.3" fill="url(#rT3)" fill-opacity="0.95"/>
<circle cx="400.4" cy="78.7" r="2.3" fill="url(#rT3)" fill-opacity="0.95"/>
<circle cx="429.1" cy="93.0" r="2.3" fill="url(#rT3)" fill-opacity="0.95"/>
<circle cx="435.3" cy="91.3" r="2.3" fill="url(#rT3)" fill-opacity="0.95"/>
<circle cx="428.4" cy="101.6" r="2.3" fill="url(#rT3)" fill-opacity="0.95"/>
<circle cx="402.6" cy="85.6" r="2.3" fill="url(#rT3)" fill-opacity="0.95"/>
<circle cx="431.5" cy="102.4" r="2.3" fill="url(#rT3)" fill-opacity="0.95"/>
<circle cx="426.2" cy="95.0" r="2.3" fill="url(#rT3)" fill-opacity="0.95"/>
<circle cx="406.5" cy="58.2" r="2.3" fill="url(#rT3)" fill-opacity="0.95"/>
<circle cx="420.8" cy="91.3" r="2.3" fill="url(#rT3)" fill-opacity="0.95"/>
<circle cx="423.7" cy="94.3" r="2.3" fill="url(#rT3)" fill-opacity="0.95"/>
<circle cx="417.8" cy="56.7" r="2.3" fill="url(#rT3)" fill-opacity="0.95"/>
<circle cx="428.6" cy="70.5" r="2.3" fill="url(#rT3)" fill-opacity="0.95"/>
<circle cx="428.2" cy="67.9" r="2.3" fill="url(#rT3)" fill-opacity="0.95"/>
<circle cx="428.7" cy="110.7" r="2.3" fill="url(#rT3)" fill-opacity="0.95"/>
<circle cx="418.0" cy="77.7" r="2.3" fill="url(#rT3)" fill-opacity="0.95"/>
<circle cx="429.9" cy="90.7" r="2.3" fill="url(#rT3)" fill-opacity="0.95"/>
<circle cx="425.9" cy="72.6" r="2.3" fill="url(#rT3)" fill-opacity="0.95"/>
<circle cx="419.0" cy="82.3" r="2.3" fill="url(#rT3)" fill-opacity="0.95"/>
<circle cx="416.8" cy="63.1" r="2.3" fill="url(#rT3)" fill-opacity="0.95"/>
<circle cx="386.7" cy="78" r="2.3" fill="url(#rT3)"/>
<circle cx="458.5" cy="54.4" r="2.3" fill="url(#rT3)"/>
<circle cx="449.2" cy="67.9" r="2.3" fill="url(#rT3)"/>
<circle cx="446.3" cy="71.7" r="2.3" fill="url(#rT3)"/>
<circle cx="442.5" cy="79.4" r="2.3" fill="url(#rT3)"/>
<circle cx="435.8" cy="117.9" r="2.3" fill="url(#rT3)"/>
<circle cx="429" cy="113.5" r="2.3" fill="url(#rT3)"/>
<circle cx="394" cy="93" r="2.3" fill="url(#rT3)"/>
<circle cx="441" cy="88" r="2.3" fill="url(#rT3)"/>
<circle cx="392" cy="101" r="2.3" fill="url(#rT3)"/>
<circle cx="400" cy="106" r="2.3" fill="url(#rT3)"/>
<circle cx="423.8" cy="113.8" r="2.3" fill="url(#rT1)" fill-opacity="0.95"/>
<circle cx="373.0" cy="123.9" r="2.3" fill="url(#rT1)" fill-opacity="0.95"/>
<circle cx="398.1" cy="116.5" r="2.3" fill="url(#rT1)" fill-opacity="0.95"/>
<circle cx="384.2" cy="128.7" r="2.3" fill="url(#rT1)" fill-opacity="0.95"/>
<circle cx="380.2" cy="126.4" r="2.3" fill="url(#rT1)" fill-opacity="0.95"/>
<circle cx="419.6" cy="125.8" r="2.3" fill="url(#rT1)" fill-opacity="0.95"/>
<circle cx="423.4" cy="133.4" r="2.3" fill="url(#rT1)" fill-opacity="0.95"/>
<circle cx="398.1" cy="117.8" r="2.3" fill="url(#rT1)" fill-opacity="0.95"/>
<circle cx="420.7" cy="110.7" r="2.3" fill="url(#rT1)" fill-opacity="0.95"/>
<circle cx="424.3" cy="117.3" r="2.3" fill="url(#rT1)" fill-opacity="0.95"/>
<circle cx="393.6" cy="121.3" r="2.3" fill="url(#rT1)" fill-opacity="0.95"/>
<circle cx="392.9" cy="122.7" r="2.3" fill="url(#rT1)" fill-opacity="0.95"/>
<circle cx="401.6" cy="113.4" r="2.3" fill="url(#rT1)" fill-opacity="0.95"/>
<circle cx="408.6" cy="141.6" r="2.3" fill="url(#rT1)" fill-opacity="0.95"/>
<circle cx="414.5" cy="123.6" r="2.3" fill="url(#rT1)" fill-opacity="0.95"/>
<circle cx="415.7" cy="131.1" r="2.3" fill="url(#rT1)" fill-opacity="0.95"/>
<circle cx="388.6" cy="107.9" r="2.3" fill="url(#rT1)" fill-opacity="0.95"/>
<circle cx="399.4" cy="119.4" r="2.3" fill="url(#rT1)" fill-opacity="0.95"/>
<circle cx="428.6" cy="116.1" r="2.3" fill="url(#rT1)" fill-opacity="0.95"/>
<circle cx="410.0" cy="117.7" r="2.3" fill="url(#rT1)" fill-opacity="0.95"/>
<circle cx="404.3" cy="121.4" r="2.3" fill="url(#rT1)" fill-opacity="0.95"/>
<circle cx="400.8" cy="114.6" r="2.3" fill="url(#rT1)" fill-opacity="0.95"/>
<circle cx="391.8" cy="109.6" r="2.3" fill="url(#rT1)" fill-opacity="0.95"/>
<circle cx="405.0" cy="140.6" r="2.3" fill="url(#rT1)" fill-opacity="0.95"/>
<circle cx="415.5" cy="122.1" r="2.3" fill="url(#rT1)" fill-opacity="0.95"/>
<circle cx="396.0" cy="126.4" r="2.3" fill="url(#rT1)" fill-opacity="0.95"/>
<circle cx="393.9" cy="119.2" r="2.3" fill="url(#rT1)" fill-opacity="0.95"/>
<circle cx="401.2" cy="130.6" r="2.3" fill="url(#rT1)" fill-opacity="0.95"/>
<circle cx="422.0" cy="114.4" r="2.3" fill="url(#rT1)" fill-opacity="0.95"/>
<circle cx="395.2" cy="123.4" r="2.3" fill="url(#rT1)" fill-opacity="0.95"/>
<circle cx="424.0" cy="124.5" r="2.3" fill="url(#rT1)" fill-opacity="0.95"/>
<circle cx="419.9" cy="139.4" r="2.3" fill="url(#rT1)" fill-opacity="0.95"/>
<circle cx="402.3" cy="132.6" r="2.3" fill="url(#rT1)" fill-opacity="0.95"/>
<circle cx="409.5" cy="135.8" r="2.3" fill="url(#rT1)" fill-opacity="0.95"/>
<circle cx="398.5" cy="127.5" r="2.3" fill="url(#rT1)" fill-opacity="0.95"/>
<circle cx="408.9" cy="133.2" r="2.3" fill="url(#rT1)" fill-opacity="0.95"/>
<circle cx="402.4" cy="128.7" r="2.3" fill="url(#rT1)" fill-opacity="0.95"/>
<circle cx="394.5" cy="114.7" r="2.3" fill="url(#rT1)" fill-opacity="0.95"/>
<circle cx="389.5" cy="124.0" r="2.3" fill="url(#rT1)" fill-opacity="0.95"/>
<circle cx="389.8" cy="106.8" r="2.3" fill="url(#rT1)" fill-opacity="0.95"/>
<circle cx="400.9" cy="132.3" r="2.3" fill="url(#rT1)" fill-opacity="0.95"/>
<circle cx="396.4" cy="116.0" r="2.3" fill="url(#rT1)" fill-opacity="0.95"/>
<circle cx="410.7" cy="142.1" r="2.3" fill="url(#rT1)" fill-opacity="0.95"/>
<circle cx="391.6" cy="122.4" r="2.3" fill="url(#rT1)" fill-opacity="0.95"/>
<circle cx="411.6" cy="113.7" r="2.3" fill="url(#rT1)" fill-opacity="0.95"/>
<circle cx="418.2" cy="134.8" r="2.3" fill="url(#rT1)" fill-opacity="0.95"/>
<circle cx="428.3" cy="118.2" r="2.3" fill="url(#rT1)" fill-opacity="0.95"/>
<circle cx="419.6" cy="115.0" r="2.3" fill="url(#rT1)" fill-opacity="0.95"/>
<circle cx="385.0" cy="122.3" r="2.3" fill="url(#rT1)" fill-opacity="0.95"/>
<circle cx="426.0" cy="118.8" r="2.3" fill="url(#rT1)" fill-opacity="0.95"/>
<circle cx="410.5" cy="120.8" r="2.3" fill="url(#rT1)" fill-opacity="0.95"/>
<circle cx="388.2" cy="119.7" r="2.3" fill="url(#rT1)" fill-opacity="0.95"/>
<circle cx="419.7" cy="122.9" r="2.3" fill="url(#rT1)" fill-opacity="0.95"/>
<circle cx="374.9" cy="124.5" r="2.3" fill="url(#rT1)" fill-opacity="0.95"/>
<circle cx="425.4" cy="116.0" r="2.3" fill="url(#rT1)" fill-opacity="0.95"/>
<circle cx="415.3" cy="141.0" r="2.3" fill="url(#rT1)" fill-opacity="0.95"/>
<circle cx="391.7" cy="116.6" r="2.3" fill="url(#rT1)" fill-opacity="0.95"/>
<circle cx="390.4" cy="116.7" r="2.3" fill="url(#rT1)" fill-opacity="0.95"/>
<circle cx="385.6" cy="124.5" r="2.3" fill="url(#rT1)" fill-opacity="0.95"/>
<circle cx="396.9" cy="125.2" r="2.3" fill="url(#rT1)" fill-opacity="0.95"/>
<circle cx="425.8" cy="113.1" r="2.3" fill="url(#rT1)" fill-opacity="0.95"/>
<circle cx="419.7" cy="136.1" r="2.3" fill="url(#rT1)" fill-opacity="0.95"/>
<circle cx="407.2" cy="118.8" r="2.3" fill="url(#rT1)" fill-opacity="0.95"/>
<circle cx="390.5" cy="120.1" r="2.3" fill="url(#rT1)" fill-opacity="0.95"/>
<circle cx="374.0" cy="127.6" r="2.3" fill="url(#rT1)" fill-opacity="0.95"/>
<circle cx="377.6" cy="125.4" r="2.3" fill="url(#rT1)" fill-opacity="0.95"/>
<circle cx="413.2" cy="123.4" r="2.3" fill="url(#rT1)" fill-opacity="0.95"/>
<circle cx="408.0" cy="132.3" r="2.3" fill="url(#rT1)" fill-opacity="0.95"/>
<circle cx="415.4" cy="139.0" r="2.3" fill="url(#rT1)" fill-opacity="0.95"/>
<circle cx="410.5" cy="110.7" r="2.3" fill="url(#rT1)" fill-opacity="0.95"/>
<circle cx="420.8" cy="117.5" r="2.3" fill="url(#rT1)" fill-opacity="0.95"/>
<circle cx="414.8" cy="113.8" r="2.3" fill="url(#rT1)" fill-opacity="0.95"/>
<circle cx="405.5" cy="118.7" r="2.3" fill="url(#rT1)" fill-opacity="0.95"/>
<circle cx="418.9" cy="131.5" r="2.3" fill="url(#rT1)" fill-opacity="0.95"/>
<circle cx="399.5" cy="137.9" r="2.3" fill="url(#rT1)" fill-opacity="0.95"/>
<circle cx="420.8" cy="141.7" r="2.3" fill="url(#rT1)" fill-opacity="0.95"/>
<circle cx="426.0" cy="120.5" r="2.3" fill="url(#rT1)" fill-opacity="0.95"/>
<circle cx="422.2" cy="123.5" r="2.3" fill="url(#rT1)" fill-opacity="0.95"/>
<circle cx="406.6" cy="130.2" r="2.3" fill="url(#rT1)" fill-opacity="0.95"/>
<circle cx="386.8" cy="129.4" r="2.3" fill="url(#rT1)" fill-opacity="0.95"/>
<circle cx="409.8" cy="113.9" r="2.3" fill="url(#rT1)" fill-opacity="0.95"/>
<circle cx="390.1" cy="113.9" r="2.3" fill="url(#rT1)" fill-opacity="0.95"/>
<circle cx="418.1" cy="127.4" r="2.3" fill="url(#rT1)" fill-opacity="0.95"/>
<circle cx="394.9" cy="127.5" r="2.3" fill="url(#rT1)" fill-opacity="0.95"/>
<circle cx="409.1" cy="109.6" r="2.3" fill="url(#rT1)" fill-opacity="0.95"/>
<circle cx="390.1" cy="128.1" r="2.3" fill="url(#rT1)" fill-opacity="0.95"/>
<circle cx="393.1" cy="113.7" r="2.3" fill="url(#rT1)" fill-opacity="0.95"/>
<circle cx="398.7" cy="112.3" r="2.3" fill="url(#rT1)" fill-opacity="0.95"/>
<circle cx="377.2" cy="130.3" r="2.3" fill="url(#rT1)" fill-opacity="0.95"/>
<circle cx="393.5" cy="125.7" r="2.3" fill="url(#rT1)" fill-opacity="0.95"/>
<circle cx="424.4" cy="130.2" r="2.3" fill="url(#rT1)" fill-opacity="0.95"/>
<circle cx="419.8" cy="112.3" r="2.3" fill="url(#rT1)" fill-opacity="0.95"/>
<circle cx="417.6" cy="114.7" r="2.3" fill="url(#rT1)" fill-opacity="0.95"/>
<circle cx="402.0" cy="121.0" r="2.3" fill="url(#rT1)" fill-opacity="0.95"/>
<circle cx="414.0" cy="141.0" r="2.3" fill="url(#rT1)" fill-opacity="0.95"/>
<circle cx="406.8" cy="127.5" r="2.3" fill="url(#rT1)" fill-opacity="0.95"/>
<circle cx="408.4" cy="117.9" r="2.3" fill="url(#rT1)" fill-opacity="0.95"/>
<circle cx="396.4" cy="128.7" r="2.3" fill="url(#rT1)" fill-opacity="0.95"/>
<circle cx="396.7" cy="131.7" r="2.3" fill="url(#rT1)" fill-opacity="0.95"/>
<circle cx="397.9" cy="123.1" r="2.3" fill="url(#rT1)" fill-opacity="0.95"/>
<circle cx="416.3" cy="136.4" r="2.3" fill="url(#rT1)" fill-opacity="0.95"/>
<circle cx="377.3" cy="123.2" r="2.3" fill="url(#rT1)" fill-opacity="0.95"/>
<circle cx="414.5" cy="136.3" r="2.3" fill="url(#rT1)" fill-opacity="0.95"/>
<circle cx="414.5" cy="137.8" r="2.3" fill="url(#rT1)" fill-opacity="0.95"/>
<circle cx="417.7" cy="142.3" r="2.3" fill="url(#rT1)" fill-opacity="0.95"/>
<circle cx="415.9" cy="112.2" r="2.3" fill="url(#rT1)" fill-opacity="0.95"/>
<circle cx="401.3" cy="118.4" r="2.3" fill="url(#rT1)" fill-opacity="0.95"/>
<circle cx="411.4" cy="140.9" r="2.3" fill="url(#rT1)" fill-opacity="0.95"/>
<circle cx="378.7" cy="126.7" r="2.3" fill="url(#rT1)" fill-opacity="0.95"/>
<circle cx="408.9" cy="120.0" r="2.3" fill="url(#rT1)" fill-opacity="0.95"/>
<circle cx="422.6" cy="127.7" r="2.3" fill="url(#rT1)" fill-opacity="0.95"/>
<circle cx="408.5" cy="121.4" r="2.3" fill="url(#rT1)" fill-opacity="0.95"/>
<circle cx="418.3" cy="116.3" r="2.3" fill="url(#rT1)" fill-opacity="0.95"/>
<circle cx="406.0" cy="131.9" r="2.3" fill="url(#rT1)" fill-opacity="0.95"/>
<circle cx="407.7" cy="122.9" r="2.3" fill="url(#rT1)" fill-opacity="0.95"/>
<circle cx="406.2" cy="114.0" r="2.3" fill="url(#rT1)" fill-opacity="0.95"/>
<circle cx="408.2" cy="124.5" r="2.3" fill="url(#rT1)" fill-opacity="0.95"/>
<circle cx="422.5" cy="136.5" r="2.3" fill="url(#rT1)" fill-opacity="0.95"/>
<circle cx="404.6" cy="119.7" r="2.3" fill="url(#rT1)" fill-opacity="0.95"/>
<circle cx="409.4" cy="123.3" r="2.3" fill="url(#rT1)" fill-opacity="0.95"/>
<circle cx="412.3" cy="139.0" r="2.3" fill="url(#rT1)" fill-opacity="0.95"/>
<circle cx="413.3" cy="116.4" r="2.3" fill="url(#rT1)" fill-opacity="0.95"/>
<circle cx="404.1" cy="123.0" r="2.3" fill="url(#rT1)" fill-opacity="0.95"/>
<circle cx="387.4" cy="131.0" r="2.3" fill="url(#rT1)" fill-opacity="0.95"/>
<circle cx="415.1" cy="142.8" r="2.3" fill="url(#rT1)" fill-opacity="0.95"/>
<circle cx="415.3" cy="118.7" r="2.3" fill="url(#rT1)" fill-opacity="0.95"/>
<circle cx="423.0" cy="118.8" r="2.3" fill="url(#rT1)" fill-opacity="0.95"/>
<circle cx="410.6" cy="144.2" r="2.3" fill="url(#rT1)" fill-opacity="0.95"/>
<circle cx="397.4" cy="134.3" r="2.3" fill="url(#rT1)" fill-opacity="0.95"/>
<circle cx="384.3" cy="130.3" r="2.3" fill="url(#rT1)" fill-opacity="0.95"/>
<circle cx="392.0" cy="111.5" r="2.3" fill="url(#rT1)" fill-opacity="0.95"/>
<circle cx="412.2" cy="130.7" r="2.3" fill="url(#rT1)" fill-opacity="0.95"/>
<circle cx="412.4" cy="134.7" r="2.3" fill="url(#rT1)" fill-opacity="0.95"/>
<circle cx="375.8" cy="129.0" r="2.3" fill="url(#rT1)" fill-opacity="0.95"/>
<circle cx="419.5" cy="140.8" r="2.3" fill="url(#rT1)" fill-opacity="0.95"/>
<circle cx="421.2" cy="137.7" r="2.3" fill="url(#rT1)" fill-opacity="0.95"/>
<circle cx="408.8" cy="138.2" r="2.3" fill="url(#rT1)" fill-opacity="0.95"/>
<circle cx="421.4" cy="130.1" r="2.3" fill="url(#rT1)" fill-opacity="0.95"/>
<circle cx="397.3" cy="136.1" r="2.3" fill="url(#rT1)" fill-opacity="0.95"/>
<circle cx="392.1" cy="133.5" r="2.3" fill="url(#rT1)" fill-opacity="0.95"/>
<circle cx="403.2" cy="114.4" r="2.3" fill="url(#rT1)" fill-opacity="0.95"/>
<circle cx="400.5" cy="137.1" r="2.3" fill="url(#rT1)" fill-opacity="0.95"/>
<circle cx="382.7" cy="125.3" r="2.3" fill="url(#rT1)" fill-opacity="0.95"/>
<circle cx="388.5" cy="114.4" r="2.3" fill="url(#rT1)" fill-opacity="0.95"/>
<circle cx="412.6" cy="125.4" r="2.3" fill="url(#rT1)" fill-opacity="0.95"/>
<circle cx="378.4" cy="130.8" r="2.3" fill="url(#rT1)" fill-opacity="0.95"/>
<circle cx="412.4" cy="136.7" r="2.3" fill="url(#rT1)" fill-opacity="0.95"/>
<circle cx="395.3" cy="121.4" r="2.3" fill="url(#rT1)" fill-opacity="0.95"/>
<circle cx="402.8" cy="135.4" r="2.3" fill="url(#rT1)" fill-opacity="0.95"/>
<circle cx="392.2" cy="118.7" r="2.3" fill="url(#rT1)" fill-opacity="0.95"/>
<circle cx="381.8" cy="123.1" r="2.3" fill="url(#rT1)" fill-opacity="0.95"/>
<circle cx="416.9" cy="128.6" r="2.3" fill="url(#rT1)" fill-opacity="0.95"/>
<circle cx="379.3" cy="124.0" r="2.3" fill="url(#rT1)" fill-opacity="0.95"/>
<circle cx="423.3" cy="115.3" r="2.3" fill="url(#rT1)" fill-opacity="0.95"/>
<circle cx="402.3" cy="112.3" r="2.3" fill="url(#rT1)" fill-opacity="0.95"/>
<circle cx="380.2" cy="129.5" r="2.3" fill="url(#rT1)" fill-opacity="0.95"/>
<circle cx="395.5" cy="134.9" r="2.3" fill="url(#rT1)" fill-opacity="0.95"/>
<circle cx="424.7" cy="122.8" r="2.3" fill="url(#rT1)" fill-opacity="0.95"/>
<circle cx="405.3" cy="135.2" r="2.3" fill="url(#rT1)" fill-opacity="0.95"/>
<circle cx="416.9" cy="133.3" r="2.3" fill="url(#rT1)" fill-opacity="0.95"/>
<circle cx="421.4" cy="132.5" r="2.3" fill="url(#rT1)" fill-opacity="0.95"/>
<circle cx="390.2" cy="130.5" r="2.3" fill="url(#rT1)" fill-opacity="0.95"/>
<circle cx="408.5" cy="115.8" r="2.3" fill="url(#rT1)" fill-opacity="0.95"/>
<circle cx="396.6" cy="123.8" r="2.3" fill="url(#rT1)" fill-opacity="0.95"/>
<circle cx="382.6" cy="131.5" r="2.3" fill="url(#rT1)" fill-opacity="0.95"/>
<circle cx="417.1" cy="121.2" r="2.3" fill="url(#rT1)" fill-opacity="0.95"/>
<circle cx="377.9" cy="128.4" r="2.3" fill="url(#rT1)" fill-opacity="0.95"/>
<circle cx="403.4" cy="134.0" r="2.3" fill="url(#rT1)" fill-opacity="0.95"/>
<circle cx="384.2" cy="132.7" r="2.3" fill="url(#rT1)" fill-opacity="0.95"/>
<circle cx="392.6" cy="108.2" r="2.3" fill="url(#rT1)" fill-opacity="0.95"/>
<circle cx="387.9" cy="121.6" r="2.3" fill="url(#rT1)" fill-opacity="0.95"/>
<circle cx="372.8" cy="122.3" r="2.3" fill="url(#rT1)" fill-opacity="0.95"/>
<circle cx="396.4" cy="133.2" r="2.3" fill="url(#rT1)" fill-opacity="0.95"/>
<circle cx="392.5" cy="130.9" r="2.3" fill="url(#rT1)" fill-opacity="0.95"/>
<circle cx="419.5" cy="137.8" r="2.3" fill="url(#rT1)" fill-opacity="0.95"/>
<circle cx="403.8" cy="110.9" r="2.3" fill="url(#rT1)" fill-opacity="0.95"/>
<circle cx="420.4" cy="119.8" r="2.3" fill="url(#rT1)" fill-opacity="0.95"/>
<circle cx="393.8" cy="115.9" r="2.3" fill="url(#rT1)" fill-opacity="0.95"/>
<circle cx="396.7" cy="113.2" r="2.3" fill="url(#rT1)" fill-opacity="0.95"/>
<circle cx="410.0" cy="115.8" r="2.3" fill="url(#rT1)" fill-opacity="0.95"/>
<circle cx="407.3" cy="136.5" r="2.3" fill="url(#rT1)" fill-opacity="0.95"/>
<circle cx="417.7" cy="138.7" r="2.3" fill="url(#rT1)" fill-opacity="0.95"/>
<circle cx="404.2" cy="116.3" r="2.3" fill="url(#rT1)" fill-opacity="0.95"/>
<circle cx="400.5" cy="125.4" r="2.3" fill="url(#rT1)" fill-opacity="0.95"/>
<circle cx="403.3" cy="139.7" r="2.3" fill="url(#rT1)" fill-opacity="0.95"/>
<circle cx="410.6" cy="138.8" r="2.3" fill="url(#rT1)" fill-opacity="0.95"/>
<circle cx="408.9" cy="130.8" r="2.3" fill="url(#rT1)" fill-opacity="0.95"/>
<circle cx="413.7" cy="130.4" r="2.3" fill="url(#rT1)" fill-opacity="0.95"/>
<circle cx="401.2" cy="116.6" r="2.3" fill="url(#rT1)" fill-opacity="0.95"/>
<circle cx="412.4" cy="129.3" r="2.3" fill="url(#rT1)" fill-opacity="0.95"/>
<circle cx="410.7" cy="123.9" r="2.3" fill="url(#rT1)" fill-opacity="0.95"/>
<circle cx="416.2" cy="110.0" r="2.3" fill="url(#rT1)" fill-opacity="0.95"/>
<circle cx="389.5" cy="122.4" r="2.3" fill="url(#rT1)" fill-opacity="0.95"/>
<circle cx="419.0" cy="128.4" r="2.3" fill="url(#rT1)" fill-opacity="0.95"/>
<circle cx="406.3" cy="142.6" r="2.3" fill="url(#rT1)" fill-opacity="0.95"/>
<circle cx="414.3" cy="109.3" r="2.3" fill="url(#rT1)" fill-opacity="0.95"/>
<circle cx="393.3" cy="128.4" r="2.3" fill="url(#rT1)" fill-opacity="0.95"/>
<circle cx="391.3" cy="129.6" r="2.3" fill="url(#rT1)" fill-opacity="0.95"/>
<circle cx="393.8" cy="132.7" r="2.3" fill="url(#rT1)" fill-opacity="0.95"/>
<circle cx="406.9" cy="140.9" r="2.3" fill="url(#rT1)" fill-opacity="0.95"/>
<circle cx="404.1" cy="137.1" r="2.3" fill="url(#rT1)" fill-opacity="0.95"/>
<circle cx="399.0" cy="114.1" r="2.3" fill="url(#rT1)" fill-opacity="0.95"/>
<circle cx="417.9" cy="123.9" r="2.3" fill="url(#rT1)" fill-opacity="0.95"/>
<circle cx="423.3" cy="126.4" r="2.3" fill="url(#rT1)" fill-opacity="0.95"/>
<circle cx="399.6" cy="129.0" r="2.3" fill="url(#rT1)" fill-opacity="0.95"/>
<circle cx="417.7" cy="112.1" r="2.3" fill="url(#rT1)" fill-opacity="0.95"/>
<circle cx="422.2" cy="125.0" r="2.3" fill="url(#rT1)" fill-opacity="0.95"/>
<circle cx="417.2" cy="122.6" r="2.3" fill="url(#rT1)" fill-opacity="0.95"/>
<circle cx="406.7" cy="121.5" r="2.3" fill="url(#rT1)" fill-opacity="0.95"/>
<circle cx="386.9" cy="128.0" r="2.3" fill="url(#rT1)" fill-opacity="0.95"/>
<circle cx="409.2" cy="143.3" r="2.3" fill="url(#rT1)" fill-opacity="0.95"/>
<circle cx="386.8" cy="119.7" r="2.3" fill="url(#rT1)" fill-opacity="0.95"/>
<circle cx="408.4" cy="111.6" r="2.3" fill="url(#rT1)" fill-opacity="0.95"/>
<circle cx="413.4" cy="127.6" r="2.3" fill="url(#rT1)" fill-opacity="0.95"/>
<circle cx="399.7" cy="117.2" r="2.3" fill="url(#rT1)" fill-opacity="0.95"/>
<circle cx="414.1" cy="117.4" r="2.3" fill="url(#rT1)" fill-opacity="0.95"/>
<circle cx="418.8" cy="119.3" r="2.3" fill="url(#rT1)" fill-opacity="0.95"/>
<circle cx="405.1" cy="111.4" r="2.3" fill="url(#rT1)" fill-opacity="0.95"/>
<circle cx="413.3" cy="113.7" r="2.3" fill="url(#rT1)" fill-opacity="0.95"/>
<circle cx="407.5" cy="133.6" r="2.3" fill="url(#rT1)" fill-opacity="0.95"/>
<circle cx="422.6" cy="116.4" r="2.3" fill="url(#rT1)" fill-opacity="0.95"/>
<circle cx="393.3" cy="112.4" r="2.3" fill="url(#rT1)" fill-opacity="0.95"/>
<circle cx="390.6" cy="133.7" r="2.3" fill="url(#rT1)" fill-opacity="0.95"/>
<circle cx="401.8" cy="126.7" r="2.3" fill="url(#rT1)" fill-opacity="0.95"/>
<circle cx="405.4" cy="126.4" r="2.3" fill="url(#rT1)" fill-opacity="0.95"/>
<circle cx="412.8" cy="110.0" r="2.3" fill="url(#rT1)" fill-opacity="0.95"/>
<circle cx="395.5" cy="111.3" r="2.3" fill="url(#rT1)" fill-opacity="0.95"/>
<circle cx="406.3" cy="139.6" r="2.3" fill="url(#rT1)" fill-opacity="0.95"/>
<circle cx="420.7" cy="126.5" r="2.3" fill="url(#rT1)" fill-opacity="0.95"/>
<circle cx="417.1" cy="119.2" r="2.3" fill="url(#rT1)" fill-opacity="0.95"/>
<circle cx="375.1" cy="126.2" r="2.3" fill="url(#rT1)" fill-opacity="0.95"/>
<circle cx="386.5" cy="122.5" r="2.3" fill="url(#rT1)" fill-opacity="0.95"/>
<circle cx="411.3" cy="116.7" r="2.3" fill="url(#rT1)" fill-opacity="0.95"/>
<circle cx="402.2" cy="122.9" r="2.3" fill="url(#rT1)" fill-opacity="0.95"/>
<circle cx="427.2" cy="117.2" r="2.3" fill="url(#rT1)" fill-opacity="0.95"/>
<circle cx="387.6" cy="124.2" r="2.3" fill="url(#rT1)" fill-opacity="0.95"/>
<circle cx="377.1" cy="127.3" r="2.3" fill="url(#rT1)" fill-opacity="0.95"/>
<circle cx="390.0" cy="115.4" r="2.3" fill="url(#rT1)" fill-opacity="0.95"/>
<circle cx="384.9" cy="126.0" r="2.3" fill="url(#rT1)" fill-opacity="0.95"/>
<circle cx="404.3" cy="125.2" r="2.3" fill="url(#rT1)" fill-opacity="0.95"/>
<circle cx="407.7" cy="139.1" r="2.3" fill="url(#rT1)" fill-opacity="0.95"/>
<circle cx="414.8" cy="135.0" r="2.3" fill="url(#rT1)" fill-opacity="0.95"/>
<circle cx="416.1" cy="124.5" r="2.3" fill="url(#rT1)" fill-opacity="0.95"/>
<circle cx="417.5" cy="140.0" r="2.3" fill="url(#rT1)" fill-opacity="0.95"/>
<circle cx="405.7" cy="109.4" r="2.3" fill="url(#rT1)" fill-opacity="0.95"/>
<circle cx="411.2" cy="126.5" r="2.3" fill="url(#rT1)" fill-opacity="0.95"/>
<circle cx="397.5" cy="130.4" r="2.3" fill="url(#rT1)" fill-opacity="0.95"/>
<circle cx="402.7" cy="137.8" r="2.3" fill="url(#rT1)" fill-opacity="0.95"/>
<circle cx="408.5" cy="129.5" r="2.3" fill="url(#rT1)" fill-opacity="0.95"/>
<circle cx="420.8" cy="128.9" r="2.3" fill="url(#rT1)" fill-opacity="0.95"/>
<circle cx="413.5" cy="119.8" r="2.3" fill="url(#rT1)" fill-opacity="0.95"/>
<circle cx="398.1" cy="121.0" r="2.3" fill="url(#rT1)" fill-opacity="0.95"/>
<circle cx="419.3" cy="117.8" r="2.3" fill="url(#rT1)" fill-opacity="0.95"/>
<circle cx="386.1" cy="121.2" r="2.3" fill="url(#rT1)" fill-opacity="0.95"/>
<circle cx="410.5" cy="119.3" r="2.3" fill="url(#rT1)" fill-opacity="0.95"/>
<circle cx="424.2" cy="128.9" r="2.3" fill="url(#rT1)" fill-opacity="0.95"/>
<circle cx="390.6" cy="131.8" r="2.3" fill="url(#rT1)" fill-opacity="0.95"/>
<circle cx="408.5" cy="113.1" r="2.3" fill="url(#rT1)" fill-opacity="0.95"/>
<circle cx="412.3" cy="121.4" r="2.3" fill="url(#rT1)" fill-opacity="0.95"/>
<circle cx="426.9" cy="122.5" r="2.3" fill="url(#rT1)" fill-opacity="0.95"/>
<circle cx="406.7" cy="149.5" r="2.3" fill="url(#rT1)"/>
<circle cx="409" cy="146.5" r="2.3" fill="url(#rT1)"/>
<circle cx="372.5" cy="121.5" r="2.3" fill="url(#rT1)"/>
<circle cx="428" cy="108" r="2.3" fill="url(#rT1)"/>
<circle cx="391" cy="105.5" r="2.3" fill="url(#rT1)"/>
<circle cx="414.6" cy="31.3" r="2.3" fill="url(#rT2)"/>
<circle cx="416.3" cy="32.0" r="2.3" fill="url(#rT2)"/>
<circle cx="417.5" cy="33.3" r="2.3" fill="url(#rT2)"/>
<circle cx="418.8" cy="33.8" r="2.3" fill="url(#rT2)"/>
<circle cx="421.3" cy="29.4" r="2.3" fill="url(#rT2)"/>
<circle cx="419.5" cy="30.1" r="2.3" fill="url(#rT2)"/>
<circle cx="424.2" cy="33.3" r="2.3" fill="url(#rT2)"/>
<circle cx="424.2" cy="34.8" r="2.3" fill="url(#rT2)"/>
<circle cx="425.5" cy="31.5" r="2.3" fill="url(#rT2)"/>
<circle cx="430.4" cy="28.8" r="2.3" fill="url(#rT2)"/>
<circle cx="431.2" cy="29.9" r="2.3" fill="url(#rT2)"/>
<circle cx="430.6" cy="30.7" r="2.3" fill="url(#rT2)"/>
<circle cx="420.8" cy="36.2" r="2.3" fill="url(#rT2)"/>
<circle cx="421.4" cy="36.4" r="2.3" fill="url(#rT2)"/>
<circle cx="418.6" cy="35.6" r="2.3" fill="url(#rT2)"/>
<circle cx="425.2" cy="36.2" r="2.3" fill="url(#rT2)"/>
<circle cx="424.8" cy="35.1" r="2.3" fill="url(#rT2)"/>
<circle cx="423.4" cy="37.0" r="2.3" fill="url(#rT2)"/>
<circle cx="419.4" cy="40" r="2.3" fill="url(#rT2)"/>
<circle cx="420.1" cy="39.1" r="2.3" fill="url(#rT2)"/>
<circle cx="419.5" cy="39.8" r="2.3" fill="url(#rT2)"/>
<circle cx="437.7" cy="33.3" r="2.3" fill="url(#rT2)"/>
<circle cx="439.4" cy="32.8" r="2.3" fill="url(#rT2)"/>
<circle cx="439.6" cy="31.9" r="2.3" fill="url(#rT2)"/>
<circle cx="441.5" cy="34.2" r="2.3" fill="url(#rT2)"/>
<circle cx="441.8" cy="33.6" r="2.3" fill="url(#rT2)"/>
<circle cx="435.8" cy="37.1" r="2.3" fill="url(#rT2)"/>
<circle cx="436.0" cy="38.0" r="2.3" fill="url(#rT2)"/>
<circle cx="436.6" cy="37.5" r="2.3" fill="url(#rT2)"/>
<circle cx="448.3" cy="38.1" r="2.3" fill="url(#rT2)"/>
<circle cx="448.1" cy="39.1" r="2.3" fill="url(#rT2)"/>
<circle cx="442.5" cy="41" r="2.3" fill="url(#rT2)"/>
<circle cx="441.0" cy="40.2" r="2.3" fill="url(#rT2)"/>
<circle cx="441.0" cy="39.2" r="2.3" fill="url(#rT2)"/>
<circle cx="446.3" cy="43.8" r="2.3" fill="url(#rT2)"/>
<circle cx="445.4" cy="42.7" r="2.3" fill="url(#rT2)"/>
<circle cx="432" cy="42" r="2.3" fill="url(#rT2)"/>
<circle cx="431.8" cy="40.6" r="2.3" fill="url(#rT2)"/>
<circle cx="431.8" cy="41.5" r="2.3" fill="url(#rT2)"/>
<circle cx="433.8" cy="45.8" r="2.3" fill="url(#rT2)"/>
<circle cx="432.5" cy="44.3" r="2.3" fill="url(#rT2)"/>
<circle cx="436.3" cy="46.8" r="2.3" fill="url(#rT2)"/>
<circle cx="411.7" cy="44.8" r="2.3" fill="url(#rT2)"/>
<circle cx="410.0" cy="45.6" r="2.3" fill="url(#rT2)"/>
<circle cx="411.7" cy="46.7" r="2.3" fill="url(#rT2)"/>
<circle cx="412.0" cy="45.3" r="2.3" fill="url(#rT2)"/>
<circle cx="423.3" cy="45.8" r="2.3" fill="url(#rT2)"/>
<circle cx="423.0" cy="44.7" r="2.3" fill="url(#rT2)"/>
<circle cx="427" cy="45.8" r="2.3" fill="url(#rT2)"/>
<circle cx="425.0" cy="47.3" r="2.3" fill="url(#rT2)"/>
<circle cx="421.3" cy="48.7" r="2.3" fill="url(#rT2)"/>
<circle cx="421.8" cy="50.3" r="2.3" fill="url(#rT2)"/>
<circle cx="425.2" cy="49.6" r="2.3" fill="url(#rT2)"/>
<circle cx="424.2" cy="48.7" r="2.3" fill="url(#rT2)"/>
<circle cx="422.8" cy="50.7" r="2.3" fill="url(#rT2)"/>
<circle cx="428" cy="50.6" r="2.3" fill="url(#rT2)"/>
<circle cx="429.4" cy="49.9" r="2.3" fill="url(#rT2)"/>
<circle cx="428.7" cy="52.0" r="2.3" fill="url(#rT2)"/>
<circle cx="416.5" cy="50.6" r="2.3" fill="url(#rT2)"/>
<circle cx="418.2" cy="49.4" r="2.3" fill="url(#rT2)"/>
<circle cx="419.4" cy="52.5" r="2.3" fill="url(#rT2)"/>
<circle cx="420.7" cy="53.4" r="2.3" fill="url(#rT2)"/>
<circle cx="417.8" cy="53.8" r="2.3" fill="url(#rT2)"/>
<circle cx="414.6" cy="54.4" r="2.3" fill="url(#rT2)"/>
<circle cx="413.9" cy="53.9" r="2.3" fill="url(#rT2)"/>
<circle cx="423.3" cy="53.5" r="2.3" fill="url(#rT2)"/>
<circle cx="422.8" cy="54.7" r="2.3" fill="url(#rT2)"/>
<circle cx="421.0" cy="53.8" r="2.3" fill="url(#rT2)"/>
<circle cx="427" cy="54.4" r="2.3" fill="url(#rT2)"/>
<circle cx="427.5" cy="55.6" r="2.3" fill="url(#rT2)"/>
<circle cx="430" cy="54.4" r="2.3" fill="url(#rT2)"/>
<circle cx="431.6" cy="56.0" r="2.3" fill="url(#rT2)"/>
<circle cx="407" cy="55.4" r="2.3" fill="url(#rT2)"/>
<circle cx="407.0" cy="54.2" r="2.3" fill="url(#rT2)"/>
<circle cx="407.4" cy="53.7" r="2.3" fill="url(#rT2)"/>
<circle cx="404" cy="57.3" r="2.3" fill="url(#rT2)"/>
<circle cx="404.8" cy="56.1" r="2.3" fill="url(#rT2)"/>
<circle cx="417.5" cy="56.3" r="2.3" fill="url(#rT2)"/>
<circle cx="419.4" cy="54.8" r="2.3" fill="url(#rT2)"/>
<circle cx="417.2" cy="55.1" r="2.3" fill="url(#rT2)"/>
<text  transform="translate(343.6,98.6) rotate(75)" font-size="5.65" text-anchor="middle" style="fill:#111;stroke:#111;stroke-width:0.12">t-SNE3</text>
<text  transform="translate(364.3,160.8) rotate(48)" font-size="5.8" text-anchor="middle" style="fill:#111;stroke:#111;stroke-width:0.12">t-SNE2</text>
<text  transform="translate(456.6,171) rotate(-41)" font-size="6.7" text-anchor="middle" style="fill:#111;stroke:#111;stroke-width:0.12">t-SNE1</text>
<text  transform="translate(346.5,40) rotate(65)" font-size="4.2" text-anchor="middle" style="fill:#111;stroke:#111;stroke-width:0.12">10</text>
<text  transform="translate(351.5,75.5) rotate(65)" font-size="4.2" text-anchor="middle" style="fill:#111;stroke:#111;stroke-width:0.12">5</text>
<text  transform="translate(358,103) rotate(60)" font-size="4.2" text-anchor="middle" style="fill:#111;stroke:#111;stroke-width:0.12">0</text>
<text  transform="translate(364,126) rotate(55)" font-size="4.2" text-anchor="middle" style="fill:#111;stroke:#111;stroke-width:0.12">-5</text>
<text  transform="translate(370,145) rotate(52)" font-size="4.2" text-anchor="middle" style="fill:#111;stroke:#111;stroke-width:0.12">-10</text>
<text  transform="translate(375,155.5) rotate(50)" font-size="4.2" text-anchor="middle" style="fill:#111;stroke:#111;stroke-width:0.12">4</text>
<text  transform="translate(381.5,163.5) rotate(50)" font-size="4.2" text-anchor="middle" style="fill:#111;stroke:#111;stroke-width:0.12">2</text>
<text  transform="translate(387.5,171.5) rotate(50)" font-size="4.2" text-anchor="middle" style="fill:#111;stroke:#111;stroke-width:0.12">0</text>
<text  transform="translate(441.5,168.5) rotate(-42)" font-size="3.3" text-anchor="middle" style="fill:#111;stroke:#111;stroke-width:0.12">-10 -5 0 5 10</text>
<circle cx="496.7" cy="30.6" r="1" fill="#8ecbf0"/>
<text class="b" x="500.5" y="32.25" font-size="4.5">T1</text>
<circle cx="496.7" cy="36.85" r="1" fill="#18a596"/>
<text class="b" x="500.5" y="38.5" font-size="4.5">T2</text>
<circle cx="496.7" cy="43.1" r="1" fill="#76879a"/>
<text class="b" x="500.5" y="44.75" font-size="4.5">T3</text>
<path d="M388,228 L388,269" fill="none" stroke="#eaeaea" stroke-width="0.5"/>
<path d="M462,214 L462,248" fill="none" stroke="#eaeaea" stroke-width="0.5"/>
<path d="M336,270 L388,250 L418,232" fill="none" stroke="#eaeaea" stroke-width="0.5"/>
<path d="M388,228 L445,207 L492,228" fill="none" stroke="#eaeaea" stroke-width="0.5"/>
<path d="M336,288 L388,269 L441,303" fill="none" stroke="#eaeaea" stroke-width="0.5"/>
<path d="M441,303 L490,262" fill="none" stroke="#eaeaea" stroke-width="0.5"/>
<path d="M462,248 L490,262" fill="none" stroke="#eaeaea" stroke-width="0.5"/>
<path d="M388,269 L462,248" fill="none" stroke="#eaeaea" stroke-width="0.5"/>
<path d="M336,312 L395,286" fill="none" stroke="#eaeaea" stroke-width="0.5"/>
<path d="M352,328 L412,296" fill="none" stroke="#eaeaea" stroke-width="0.5"/>
<path d="M378,340 L441,303" fill="none" stroke="#eaeaea" stroke-width="0.5"/>
<path d="M405,221 L405,280" fill="none" stroke="#eaeaea" stroke-width="0.5"/>
<path d="M425,214 L425,292" fill="none" stroke="#eaeaea" stroke-width="0.5"/>
<path d="M445,207 L445,254" fill="none" stroke="#eaeaea" stroke-width="0.5"/>
<path d="M404,318 L466,283" fill="none" stroke="#eaeaea" stroke-width="0.5"/>
<path d="M420,290 L476,255" fill="none" stroke="#eaeaea" stroke-width="0.5"/>
<path d="M388,269 L441,303" fill="none" stroke="#cfcfcf" stroke-width="0.6"/>
<circle cx="368.8" cy="267.7" r="2.3" fill="url(#rS3)" fill-opacity="0.9"/>
<circle cx="375.6" cy="274.6" r="2.3" fill="url(#rS3)" fill-opacity="0.9"/>
<circle cx="369.8" cy="286.8" r="2.3" fill="url(#rS3)" fill-opacity="0.9"/>
<circle cx="405.2" cy="261.7" r="2.3" fill="url(#rS3)" fill-opacity="0.9"/>
<circle cx="370.2" cy="281.7" r="2.3" fill="url(#rS3)" fill-opacity="0.9"/>
<circle cx="361.1" cy="276.5" r="2.3" fill="url(#rS3)" fill-opacity="0.9"/>
<circle cx="341.1" cy="287.3" r="2.3" fill="url(#rS3)" fill-opacity="0.9"/>
<circle cx="359.1" cy="282.1" r="2.3" fill="url(#rS3)" fill-opacity="0.9"/>
<circle cx="373.0" cy="285.9" r="2.3" fill="url(#rS3)" fill-opacity="0.9"/>
<circle cx="362.6" cy="297.8" r="2.3" fill="url(#rS3)" fill-opacity="0.9"/>
<circle cx="350.9" cy="287.4" r="2.3" fill="url(#rS3)" fill-opacity="0.9"/>
<circle cx="343.0" cy="286.5" r="2.3" fill="url(#rS3)" fill-opacity="0.9"/>
<circle cx="380.6" cy="274.3" r="2.3" fill="url(#rS3)" fill-opacity="0.9"/>
<circle cx="350.2" cy="298.0" r="2.3" fill="url(#rS3)" fill-opacity="0.9"/>
<circle cx="345.0" cy="296.6" r="2.3" fill="url(#rS3)" fill-opacity="0.9"/>
<circle cx="343.7" cy="280.0" r="2.3" fill="url(#rS3)" fill-opacity="0.9"/>
<circle cx="373.7" cy="281.2" r="2.3" fill="url(#rS3)" fill-opacity="0.9"/>
<circle cx="380.0" cy="259.2" r="2.3" fill="url(#rS3)" fill-opacity="0.9"/>
<circle cx="381.2" cy="257.5" r="2.3" fill="url(#rS3)" fill-opacity="0.9"/>
<circle cx="342.1" cy="275.5" r="2.3" fill="url(#rS3)" fill-opacity="0.9"/>
<circle cx="378.3" cy="289.2" r="2.3" fill="url(#rS3)" fill-opacity="0.9"/>
<circle cx="391.3" cy="258.6" r="2.3" fill="url(#rS3)" fill-opacity="0.9"/>
<circle cx="366.3" cy="262.1" r="2.3" fill="url(#rS3)" fill-opacity="0.9"/>
<circle cx="379.3" cy="292.2" r="2.3" fill="url(#rS3)" fill-opacity="0.9"/>
<circle cx="395.5" cy="256.4" r="2.3" fill="url(#rS3)" fill-opacity="0.9"/>
<circle cx="381.7" cy="264.2" r="2.3" fill="url(#rS3)" fill-opacity="0.9"/>
<circle cx="390.3" cy="274.8" r="2.3" fill="url(#rS3)" fill-opacity="0.9"/>
<circle cx="383.7" cy="297.1" r="2.3" fill="url(#rS3)" fill-opacity="0.9"/>
<circle cx="406.2" cy="297.0" r="2.3" fill="url(#rS3)" fill-opacity="0.9"/>
<circle cx="393.2" cy="270.6" r="2.3" fill="url(#rS3)" fill-opacity="0.9"/>
<circle cx="388.2" cy="294.8" r="2.3" fill="url(#rS3)" fill-opacity="0.9"/>
<circle cx="364.8" cy="290.4" r="2.3" fill="url(#rS3)" fill-opacity="0.9"/>
<circle cx="391.4" cy="255.7" r="2.3" fill="url(#rS3)" fill-opacity="0.9"/>
<circle cx="345.1" cy="299.8" r="2.3" fill="url(#rS3)" fill-opacity="0.9"/>
<circle cx="355.8" cy="263.2" r="2.3" fill="url(#rS3)" fill-opacity="0.9"/>
<circle cx="400.2" cy="282.6" r="2.3" fill="url(#rS3)" fill-opacity="0.9"/>
<circle cx="358.5" cy="287.9" r="2.3" fill="url(#rS3)" fill-opacity="0.9"/>
<circle cx="347.5" cy="297.3" r="2.3" fill="url(#rS3)" fill-opacity="0.9"/>
<circle cx="337.5" cy="270.6" r="2.3" fill="url(#rS3)" fill-opacity="0.9"/>
<circle cx="374.6" cy="297.2" r="2.3" fill="url(#rS3)" fill-opacity="0.9"/>
<circle cx="398.7" cy="287.5" r="2.3" fill="url(#rS3)" fill-opacity="0.9"/>
<circle cx="372.7" cy="261.4" r="2.3" fill="url(#rS3)" fill-opacity="0.9"/>
<circle cx="366.4" cy="297.2" r="2.3" fill="url(#rS3)" fill-opacity="0.9"/>
<circle cx="342.3" cy="270.0" r="2.3" fill="url(#rS3)" fill-opacity="0.9"/>
<circle cx="404.4" cy="283.0" r="2.3" fill="url(#rS3)" fill-opacity="0.9"/>
<circle cx="349.4" cy="271.5" r="2.3" fill="url(#rS3)" fill-opacity="0.9"/>
<circle cx="337.0" cy="282.5" r="2.3" fill="url(#rS3)" fill-opacity="0.9"/>
<circle cx="338.1" cy="276.5" r="2.3" fill="url(#rS3)" fill-opacity="0.9"/>
<circle cx="387.5" cy="267.1" r="2.3" fill="url(#rS3)" fill-opacity="0.9"/>
<circle cx="374.5" cy="266.6" r="2.3" fill="url(#rS3)" fill-opacity="0.9"/>
<circle cx="364.1" cy="267.6" r="2.3" fill="url(#rS3)" fill-opacity="0.9"/>
<circle cx="388.3" cy="268.7" r="2.3" fill="url(#rS3)" fill-opacity="0.9"/>
<circle cx="392.7" cy="278.9" r="2.3" fill="url(#rS3)" fill-opacity="0.9"/>
<circle cx="363.1" cy="281.0" r="2.3" fill="url(#rS3)" fill-opacity="0.9"/>
<circle cx="411.6" cy="277.6" r="2.3" fill="url(#rS3)" fill-opacity="0.9"/>
<circle cx="355.0" cy="265.2" r="2.3" fill="url(#rS3)" fill-opacity="0.9"/>
<circle cx="402.7" cy="276.2" r="2.3" fill="url(#rS3)" fill-opacity="0.9"/>
<circle cx="379.7" cy="268.6" r="2.3" fill="url(#rS3)" fill-opacity="0.9"/>
<circle cx="391.7" cy="281.1" r="2.3" fill="url(#rS3)" fill-opacity="0.9"/>
<circle cx="362.4" cy="299.6" r="2.3" fill="url(#rS3)" fill-opacity="0.9"/>
<circle cx="363.6" cy="292.2" r="2.3" fill="url(#rS3)" fill-opacity="0.9"/>
<circle cx="402.5" cy="256.9" r="2.3" fill="url(#rS3)" fill-opacity="0.9"/>
<circle cx="404.8" cy="267.3" r="2.3" fill="url(#rS3)" fill-opacity="0.9"/>
<circle cx="356.9" cy="288.7" r="2.3" fill="url(#rS3)" fill-opacity="0.9"/>
<circle cx="402.2" cy="285.9" r="2.3" fill="url(#rS3)" fill-opacity="0.9"/>
<circle cx="403.0" cy="270.6" r="2.3" fill="url(#rS3)" fill-opacity="0.9"/>
<circle cx="350.8" cy="280.3" r="2.3" fill="url(#rS3)" fill-opacity="0.9"/>
<circle cx="385.1" cy="299.6" r="2.3" fill="url(#rS3)" fill-opacity="0.9"/>
<circle cx="361.3" cy="291.0" r="2.3" fill="url(#rS3)" fill-opacity="0.9"/>
<circle cx="367.3" cy="287.4" r="2.3" fill="url(#rS3)" fill-opacity="0.9"/>
<circle cx="340.9" cy="274.2" r="2.3" fill="url(#rS3)" fill-opacity="0.9"/>
<circle cx="384.1" cy="270.2" r="2.3" fill="url(#rS3)" fill-opacity="0.9"/>
<circle cx="381.9" cy="266.4" r="2.3" fill="url(#rS3)" fill-opacity="0.9"/>
<circle cx="340.8" cy="284.2" r="2.3" fill="url(#rS3)" fill-opacity="0.9"/>
<circle cx="394.8" cy="258.0" r="2.3" fill="url(#rS3)" fill-opacity="0.9"/>
<circle cx="368.7" cy="280.4" r="2.3" fill="url(#rS3)" fill-opacity="0.9"/>
<circle cx="378.7" cy="286.4" r="2.3" fill="url(#rS3)" fill-opacity="0.9"/>
<circle cx="390.6" cy="291.7" r="2.3" fill="url(#rS3)" fill-opacity="0.9"/>
<circle cx="360.0" cy="292.1" r="2.3" fill="url(#rS3)" fill-opacity="0.9"/>
<circle cx="370.9" cy="267.4" r="2.3" fill="url(#rS3)" fill-opacity="0.9"/>
<circle cx="408.0" cy="260.1" r="2.3" fill="url(#rS3)" fill-opacity="0.9"/>
<circle cx="353.8" cy="291.3" r="2.3" fill="url(#rS3)" fill-opacity="0.9"/>
<circle cx="341.1" cy="278.6" r="2.3" fill="url(#rS3)" fill-opacity="0.9"/>
<circle cx="350.3" cy="300.5" r="2.3" fill="url(#rS3)" fill-opacity="0.9"/>
<circle cx="392.6" cy="299.6" r="2.3" fill="url(#rS3)" fill-opacity="0.9"/>
<circle cx="338.7" cy="292.4" r="2.3" fill="url(#rS3)" fill-opacity="0.9"/>
<circle cx="408.3" cy="284.9" r="2.3" fill="url(#rS3)" fill-opacity="0.9"/>
<circle cx="354.1" cy="263.7" r="2.3" fill="url(#rS3)" fill-opacity="0.9"/>
<circle cx="385.3" cy="268.4" r="2.3" fill="url(#rS3)" fill-opacity="0.9"/>
<circle cx="353.0" cy="282.0" r="2.3" fill="url(#rS3)" fill-opacity="0.9"/>
<circle cx="402.1" cy="297.0" r="2.3" fill="url(#rS3)" fill-opacity="0.9"/>
<circle cx="393.6" cy="294.6" r="2.3" fill="url(#rS3)" fill-opacity="0.9"/>
<circle cx="348.8" cy="287.6" r="2.3" fill="url(#rS3)" fill-opacity="0.9"/>
<circle cx="352.4" cy="297.7" r="2.3" fill="url(#rS3)" fill-opacity="0.9"/>
<circle cx="395.8" cy="296.7" r="2.3" fill="url(#rS3)" fill-opacity="0.9"/>
<circle cx="348.0" cy="290.3" r="2.3" fill="url(#rS3)" fill-opacity="0.9"/>
<circle cx="396.7" cy="288.0" r="2.3" fill="url(#rS3)" fill-opacity="0.9"/>
<circle cx="403.3" cy="259.5" r="2.3" fill="url(#rS3)" fill-opacity="0.9"/>
<circle cx="346.8" cy="274.9" r="2.3" fill="url(#rS3)" fill-opacity="0.9"/>
<circle cx="388.6" cy="260.9" r="2.3" fill="url(#rS3)" fill-opacity="0.9"/>
<circle cx="374.6" cy="259.1" r="2.3" fill="url(#rS3)" fill-opacity="0.9"/>
<circle cx="374.2" cy="299.4" r="2.3" fill="url(#rS3)" fill-opacity="0.9"/>
<circle cx="352.9" cy="301.9" r="2.3" fill="url(#rS3)" fill-opacity="0.9"/>
<circle cx="392.1" cy="267.1" r="2.3" fill="url(#rS3)" fill-opacity="0.9"/>
<circle cx="378.8" cy="271.6" r="2.3" fill="url(#rS3)" fill-opacity="0.9"/>
<circle cx="388.8" cy="286.2" r="2.3" fill="url(#rS3)" fill-opacity="0.9"/>
<circle cx="402.9" cy="289.4" r="2.3" fill="url(#rS3)" fill-opacity="0.9"/>
<circle cx="360.7" cy="274.5" r="2.3" fill="url(#rS3)" fill-opacity="0.9"/>
<circle cx="365.9" cy="272.8" r="2.3" fill="url(#rS3)" fill-opacity="0.9"/>
<circle cx="355.9" cy="284.0" r="2.3" fill="url(#rS3)" fill-opacity="0.9"/>
<circle cx="385.6" cy="280.9" r="2.3" fill="url(#rS3)" fill-opacity="0.9"/>
<circle cx="354.3" cy="285.0" r="2.3" fill="url(#rS3)" fill-opacity="0.9"/>
<circle cx="376.5" cy="284.1" r="2.3" fill="url(#rS3)" fill-opacity="0.9"/>
<circle cx="361.0" cy="284.9" r="2.3" fill="url(#rS3)" fill-opacity="0.9"/>
<circle cx="376.2" cy="277.3" r="2.3" fill="url(#rS3)" fill-opacity="0.9"/>
<circle cx="347.3" cy="299.9" r="2.3" fill="url(#rS3)" fill-opacity="0.9"/>
<circle cx="376.3" cy="279.9" r="2.3" fill="url(#rS3)" fill-opacity="0.9"/>
<circle cx="404.4" cy="296.9" r="2.3" fill="url(#rS3)" fill-opacity="0.9"/>
<circle cx="365.5" cy="295.1" r="2.3" fill="url(#rS3)" fill-opacity="0.9"/>
<circle cx="370.9" cy="257.9" r="2.3" fill="url(#rS3)" fill-opacity="0.9"/>
<circle cx="370.6" cy="277.4" r="2.3" fill="url(#rS3)" fill-opacity="0.9"/>
<circle cx="394.2" cy="261.0" r="2.3" fill="url(#rS3)" fill-opacity="0.9"/>
<circle cx="364.4" cy="279.5" r="2.3" fill="url(#rS3)" fill-opacity="0.9"/>
<circle cx="364.7" cy="270.5" r="2.3" fill="url(#rS3)" fill-opacity="0.9"/>
<circle cx="379.9" cy="256.4" r="2.3" fill="url(#rS3)" fill-opacity="0.9"/>
<circle cx="354.9" cy="295.2" r="2.3" fill="url(#rS3)" fill-opacity="0.9"/>
<circle cx="368.7" cy="293.1" r="2.3" fill="url(#rS3)" fill-opacity="0.9"/>
<circle cx="370.1" cy="271.9" r="2.3" fill="url(#rS3)" fill-opacity="0.9"/>
<circle cx="358.9" cy="273.9" r="2.3" fill="url(#rS3)" fill-opacity="0.9"/>
<circle cx="398.1" cy="271.1" r="2.3" fill="url(#rS3)" fill-opacity="0.9"/>
<circle cx="380.5" cy="299.7" r="2.3" fill="url(#rS3)" fill-opacity="0.9"/>
<circle cx="410.3" cy="289.1" r="2.3" fill="url(#rS3)" fill-opacity="0.9"/>
<circle cx="387.1" cy="270.0" r="2.3" fill="url(#rS3)" fill-opacity="0.9"/>
<circle cx="394.0" cy="272.5" r="2.3" fill="url(#rS3)" fill-opacity="0.9"/>
<circle cx="371.6" cy="295.5" r="2.3" fill="url(#rS3)" fill-opacity="0.9"/>
<circle cx="372.5" cy="298.0" r="2.3" fill="url(#rS3)" fill-opacity="0.9"/>
<circle cx="373.8" cy="279.1" r="2.3" fill="url(#rS3)" fill-opacity="0.9"/>
<circle cx="387.4" cy="290.5" r="2.3" fill="url(#rS3)" fill-opacity="0.9"/>
<circle cx="395.0" cy="292.0" r="2.3" fill="url(#rS3)" fill-opacity="0.9"/>
<circle cx="398.6" cy="258.6" r="2.3" fill="url(#rS3)" fill-opacity="0.9"/>
<circle cx="393.8" cy="281.7" r="2.3" fill="url(#rS3)" fill-opacity="0.9"/>
<circle cx="398.6" cy="297.1" r="2.3" fill="url(#rS3)" fill-opacity="0.9"/>
<circle cx="361.9" cy="279.4" r="2.3" fill="url(#rS3)" fill-opacity="0.9"/>
<circle cx="356.4" cy="269.2" r="2.3" fill="url(#rS3)" fill-opacity="0.9"/>
<circle cx="401.8" cy="281.3" r="2.3" fill="url(#rS3)" fill-opacity="0.9"/>
<circle cx="359.6" cy="296.8" r="2.3" fill="url(#rS3)" fill-opacity="0.9"/>
<circle cx="401.6" cy="266.4" r="2.3" fill="url(#rS3)" fill-opacity="0.9"/>
<circle cx="340.5" cy="280.3" r="2.3" fill="url(#rS3)" fill-opacity="0.9"/>
<circle cx="406.4" cy="281.3" r="2.3" fill="url(#rS3)" fill-opacity="0.9"/>
<circle cx="397.5" cy="283.1" r="2.3" fill="url(#rS3)" fill-opacity="0.9"/>
<circle cx="374.4" cy="287.2" r="2.3" fill="url(#rS3)" fill-opacity="0.9"/>
<circle cx="358.9" cy="264.1" r="2.3" fill="url(#rS3)" fill-opacity="0.9"/>
<circle cx="405.3" cy="287.8" r="2.3" fill="url(#rS3)" fill-opacity="0.9"/>
<circle cx="400.0" cy="268.2" r="2.3" fill="url(#rS3)" fill-opacity="0.9"/>
<circle cx="411.0" cy="273.1" r="2.3" fill="url(#rS3)" fill-opacity="0.9"/>
<circle cx="365.4" cy="285.5" r="2.3" fill="url(#rS3)" fill-opacity="0.9"/>
<circle cx="378.0" cy="258.2" r="2.3" fill="url(#rS3)" fill-opacity="0.9"/>
<circle cx="407.9" cy="279.8" r="2.3" fill="url(#rS3)" fill-opacity="0.9"/>
<circle cx="357.1" cy="298.2" r="2.3" fill="url(#rS3)" fill-opacity="0.9"/>
<circle cx="353.8" cy="299.7" r="2.3" fill="url(#rS3)" fill-opacity="0.9"/>
<circle cx="340.3" cy="270.2" r="2.3" fill="url(#rS3)" fill-opacity="0.9"/>
<circle cx="396.4" cy="268.4" r="2.3" fill="url(#rS3)" fill-opacity="0.9"/>
<circle cx="339.1" cy="279.2" r="2.3" fill="url(#rS3)" fill-opacity="0.9"/>
<circle cx="385.7" cy="260.1" r="2.3" fill="url(#rS3)" fill-opacity="0.9"/>
<circle cx="363.3" cy="272.2" r="2.3" fill="url(#rS3)" fill-opacity="0.9"/>
<circle cx="375.0" cy="271.8" r="2.3" fill="url(#rS3)" fill-opacity="0.9"/>
<circle cx="367.2" cy="263.7" r="2.3" fill="url(#rS3)" fill-opacity="0.9"/>
<circle cx="354.7" cy="297.1" r="2.3" fill="url(#rS3)" fill-opacity="0.9"/>
<circle cx="379.9" cy="287.9" r="2.3" fill="url(#rS3)" fill-opacity="0.9"/>
<circle cx="338.8" cy="273.2" r="2.3" fill="url(#rS3)" fill-opacity="0.9"/>
<circle cx="371.6" cy="299.5" r="2.3" fill="url(#rS3)" fill-opacity="0.9"/>
<circle cx="408.0" cy="274.1" r="2.3" fill="url(#rS3)" fill-opacity="0.9"/>
<circle cx="392.3" cy="287.4" r="2.3" fill="url(#rS3)" fill-opacity="0.9"/>
<circle cx="362.7" cy="260.5" r="2.3" fill="url(#rS3)" fill-opacity="0.9"/>
<circle cx="353.2" cy="270.1" r="2.3" fill="url(#rS3)" fill-opacity="0.9"/>
<circle cx="351.6" cy="284.8" r="2.3" fill="url(#rS3)" fill-opacity="0.9"/>
<circle cx="359.2" cy="301.5" r="2.3" fill="url(#rS3)" fill-opacity="0.9"/>
<circle cx="351.5" cy="276.4" r="2.3" fill="url(#rS3)" fill-opacity="0.9"/>
<circle cx="390.5" cy="273.1" r="2.3" fill="url(#rS3)" fill-opacity="0.9"/>
<circle cx="399.3" cy="273.8" r="2.3" fill="url(#rS3)" fill-opacity="0.9"/>
<circle cx="386.1" cy="295.3" r="2.3" fill="url(#rS3)" fill-opacity="0.9"/>
<circle cx="381.7" cy="295.3" r="2.3" fill="url(#rS3)" fill-opacity="0.9"/>
<circle cx="336.8" cy="278.0" r="2.3" fill="url(#rS3)" fill-opacity="0.9"/>
<circle cx="344.9" cy="294.1" r="2.3" fill="url(#rS3)" fill-opacity="0.9"/>
<circle cx="382.5" cy="276.4" r="2.3" fill="url(#rS3)" fill-opacity="0.9"/>
<circle cx="383.6" cy="268.1" r="2.3" fill="url(#rS3)" fill-opacity="0.9"/>
<circle cx="388.4" cy="255.6" r="2.3" fill="url(#rS3)" fill-opacity="0.9"/>
<circle cx="350.5" cy="267.1" r="2.3" fill="url(#rS3)" fill-opacity="0.9"/>
<circle cx="364.0" cy="264.7" r="2.3" fill="url(#rS3)" fill-opacity="0.9"/>
<circle cx="350.9" cy="295.0" r="2.3" fill="url(#rS3)" fill-opacity="0.9"/>
<circle cx="398.0" cy="266.0" r="2.3" fill="url(#rS3)" fill-opacity="0.9"/>
<circle cx="364.0" cy="286.6" r="2.3" fill="url(#rS3)" fill-opacity="0.9"/>
<circle cx="405.4" cy="278.4" r="2.3" fill="url(#rS3)" fill-opacity="0.9"/>
<circle cx="370.5" cy="291.1" r="2.3" fill="url(#rS3)" fill-opacity="0.9"/>
<circle cx="393.3" cy="285.6" r="2.3" fill="url(#rS3)" fill-opacity="0.9"/>
<circle cx="394.4" cy="268.1" r="2.3" fill="url(#rS3)" fill-opacity="0.9"/>
<circle cx="390.4" cy="288.0" r="2.3" fill="url(#rS3)" fill-opacity="0.9"/>
<circle cx="348.8" cy="282.3" r="2.3" fill="url(#rS3)" fill-opacity="0.9"/>
<circle cx="392.6" cy="262.0" r="2.3" fill="url(#rS3)" fill-opacity="0.9"/>
<circle cx="356.3" cy="273.2" r="2.3" fill="url(#rS3)" fill-opacity="0.9"/>
<circle cx="409.7" cy="266.8" r="2.3" fill="url(#rS3)" fill-opacity="0.9"/>
<circle cx="384.9" cy="292.4" r="2.3" fill="url(#rS3)" fill-opacity="0.9"/>
<circle cx="357.4" cy="271.6" r="2.3" fill="url(#rS3)" fill-opacity="0.9"/>
<circle cx="376.7" cy="267.9" r="2.3" fill="url(#rS3)" fill-opacity="0.9"/>
<circle cx="356.2" cy="292.1" r="2.3" fill="url(#rS3)" fill-opacity="0.9"/>
<circle cx="407.9" cy="266.8" r="2.3" fill="url(#rS3)" fill-opacity="0.9"/>
<circle cx="388.0" cy="274.1" r="2.3" fill="url(#rS3)" fill-opacity="0.9"/>
<circle cx="345.0" cy="268.8" r="2.3" fill="url(#rS3)" fill-opacity="0.9"/>
<circle cx="387.4" cy="298.6" r="2.3" fill="url(#rS3)" fill-opacity="0.9"/>
<circle cx="367.9" cy="278.6" r="2.3" fill="url(#rS3)" fill-opacity="0.9"/>
<circle cx="338.7" cy="258.3" r="2.3" fill="url(#rS3)"/>
<circle cx="334" cy="280" r="2.3" fill="url(#rS3)"/>
<circle cx="334.5" cy="287" r="2.3" fill="url(#rS3)"/>
<circle cx="453.4" cy="236.9" r="2.3" fill="url(#rS2)" fill-opacity="0.85"/>
<circle cx="446.9" cy="236.8" r="2.3" fill="url(#rS2)" fill-opacity="0.85"/>
<circle cx="443.7" cy="243.6" r="2.3" fill="url(#rS2)" fill-opacity="0.85"/>
<circle cx="456.3" cy="243.5" r="2.3" fill="url(#rS2)" fill-opacity="0.85"/>
<circle cx="440.7" cy="239.3" r="2.3" fill="url(#rS2)" fill-opacity="0.85"/>
<circle cx="455.5" cy="235.0" r="2.3" fill="url(#rS2)" fill-opacity="0.85"/>
<circle cx="452.9" cy="244.5" r="2.3" fill="url(#rS2)" fill-opacity="0.85"/>
<circle cx="443.7" cy="224.2" r="2.3" fill="url(#rS2)" fill-opacity="0.85"/>
<circle cx="451.8" cy="243.1" r="2.3" fill="url(#rS2)" fill-opacity="0.85"/>
<circle cx="443.7" cy="227.8" r="2.3" fill="url(#rS2)" fill-opacity="0.85"/>
<circle cx="442.5" cy="224.8" r="2.3" fill="url(#rS2)" fill-opacity="0.85"/>
<circle cx="453.6" cy="246.9" r="2.3" fill="url(#rS2)" fill-opacity="0.85"/>
<circle cx="456.7" cy="231.5" r="2.3" fill="url(#rS2)" fill-opacity="0.85"/>
<circle cx="454.1" cy="224.3" r="2.3" fill="url(#rS2)" fill-opacity="0.85"/>
<circle cx="440.4" cy="229.4" r="2.3" fill="url(#rS2)" fill-opacity="0.85"/>
<circle cx="438.4" cy="233.6" r="2.3" fill="url(#rS2)" fill-opacity="0.85"/>
<circle cx="439.7" cy="228.1" r="2.3" fill="url(#rS2)" fill-opacity="0.85"/>
<circle cx="452.4" cy="231.0" r="2.3" fill="url(#rS2)" fill-opacity="0.85"/>
<circle cx="445.1" cy="236.7" r="2.3" fill="url(#rS2)" fill-opacity="0.85"/>
<circle cx="442.3" cy="242.3" r="2.3" fill="url(#rS2)" fill-opacity="0.85"/>
<circle cx="456.8" cy="235.9" r="2.3" fill="url(#rS2)" fill-opacity="0.85"/>
<circle cx="447.4" cy="224.1" r="2.3" fill="url(#rS2)" fill-opacity="0.85"/>
<circle cx="452.4" cy="240.6" r="2.3" fill="url(#rS2)" fill-opacity="0.85"/>
<circle cx="451.3" cy="232.5" r="2.3" fill="url(#rS2)" fill-opacity="0.85"/>
<circle cx="449.5" cy="237.2" r="2.3" fill="url(#rS2)" fill-opacity="0.85"/>
<circle cx="460.6" cy="230.7" r="2.3" fill="url(#rS2)" fill-opacity="0.85"/>
<circle cx="448.7" cy="225.8" r="2.3" fill="url(#rS2)" fill-opacity="0.85"/>
<circle cx="448.1" cy="239.6" r="2.3" fill="url(#rS2)" fill-opacity="0.85"/>
<circle cx="454.4" cy="233.9" r="2.3" fill="url(#rS2)" fill-opacity="0.85"/>
<circle cx="445.4" cy="227.2" r="2.3" fill="url(#rS2)" fill-opacity="0.85"/>
<circle cx="446.9" cy="229.6" r="2.3" fill="url(#rS2)" fill-opacity="0.85"/>
<circle cx="441.8" cy="240.9" r="2.3" fill="url(#rS2)" fill-opacity="0.85"/>
<circle cx="449.6" cy="233.5" r="2.3" fill="url(#rS2)" fill-opacity="0.85"/>
<circle cx="441.8" cy="229.1" r="2.3" fill="url(#rS2)" fill-opacity="0.85"/>
<circle cx="450.7" cy="240.0" r="2.3" fill="url(#rS2)" fill-opacity="0.85"/>
<circle cx="454.7" cy="240.5" r="2.3" fill="url(#rS2)" fill-opacity="0.85"/>
<circle cx="454.7" cy="238.3" r="2.3" fill="url(#rS2)" fill-opacity="0.85"/>
<circle cx="443.5" cy="231.4" r="2.3" fill="url(#rS2)" fill-opacity="0.85"/>
<circle cx="445.7" cy="245.0" r="2.3" fill="url(#rS2)" fill-opacity="0.85"/>
<circle cx="456.7" cy="233.9" r="2.3" fill="url(#rS2)" fill-opacity="0.85"/>
<circle cx="440.8" cy="241.9" r="2.3" fill="url(#rS2)" fill-opacity="0.85"/>
<circle cx="448.5" cy="247.3" r="2.3" fill="url(#rS2)" fill-opacity="0.85"/>
<circle cx="459.3" cy="242.4" r="2.3" fill="url(#rS2)" fill-opacity="0.85"/>
<circle cx="448.7" cy="243.0" r="2.3" fill="url(#rS2)" fill-opacity="0.85"/>
<circle cx="450.8" cy="235.2" r="2.3" fill="url(#rS2)" fill-opacity="0.85"/>
<circle cx="461.0" cy="233.4" r="2.3" fill="url(#rS2)" fill-opacity="0.85"/>
<circle cx="454.9" cy="232.1" r="2.3" fill="url(#rS2)" fill-opacity="0.85"/>
<circle cx="442.2" cy="237.1" r="2.3" fill="url(#rS2)" fill-opacity="0.85"/>
<circle cx="457.3" cy="242.2" r="2.3" fill="url(#rS2)" fill-opacity="0.85"/>
<circle cx="458.8" cy="235.9" r="2.3" fill="url(#rS2)" fill-opacity="0.85"/>
<circle cx="438.7" cy="230.6" r="2.3" fill="url(#rS2)" fill-opacity="0.85"/>
<circle cx="459.2" cy="232.1" r="2.3" fill="url(#rS2)" fill-opacity="0.85"/>
<circle cx="439.5" cy="237.3" r="2.3" fill="url(#rS2)" fill-opacity="0.85"/>
<circle cx="448.5" cy="232.5" r="2.3" fill="url(#rS2)" fill-opacity="0.85"/>
<circle cx="442.9" cy="238.7" r="2.3" fill="url(#rS2)" fill-opacity="0.85"/>
<circle cx="451.7" cy="224.1" r="2.3" fill="url(#rS2)" fill-opacity="0.85"/>
<circle cx="459.8" cy="238.5" r="2.3" fill="url(#rS2)" fill-opacity="0.85"/>
<circle cx="459.5" cy="229.1" r="2.3" fill="url(#rS2)" fill-opacity="0.85"/>
<circle cx="455.5" cy="225.1" r="2.3" fill="url(#rS2)" fill-opacity="0.85"/>
<circle cx="460.8" cy="240.2" r="2.3" fill="url(#rS2)" fill-opacity="0.85"/>
<circle cx="441.0" cy="235.3" r="2.3" fill="url(#rS2)" fill-opacity="0.85"/>
<circle cx="450.4" cy="229.8" r="2.3" fill="url(#rS2)" fill-opacity="0.85"/>
<circle cx="452.9" cy="227.7" r="2.3" fill="url(#rS2)" fill-opacity="0.85"/>
<circle cx="460.9" cy="236.2" r="2.3" fill="url(#rS2)" fill-opacity="0.85"/>
<circle cx="445.6" cy="224.9" r="2.3" fill="url(#rS2)" fill-opacity="0.85"/>
<circle cx="454.9" cy="243.7" r="2.3" fill="url(#rS2)" fill-opacity="0.85"/>
<circle cx="451.9" cy="247.0" r="2.3" fill="url(#rS2)" fill-opacity="0.85"/>
<circle cx="447.6" cy="244.5" r="2.3" fill="url(#rS2)" fill-opacity="0.85"/>
<circle cx="445.5" cy="230.6" r="2.3" fill="url(#rS2)" fill-opacity="0.85"/>
<circle cx="455.4" cy="229.4" r="2.3" fill="url(#rS2)" fill-opacity="0.85"/>
<circle cx="409.5" cy="246.0" r="2.3" fill="url(#rS1)" fill-opacity="0.95"/>
<circle cx="412.7" cy="253.3" r="2.3" fill="url(#rS1)" fill-opacity="0.95"/>
<circle cx="423.9" cy="263.9" r="2.3" fill="url(#rS1)" fill-opacity="0.95"/>
<circle cx="431.5" cy="257.4" r="2.3" fill="url(#rS1)" fill-opacity="0.95"/>
<circle cx="409.4" cy="240.7" r="2.3" fill="url(#rS1)" fill-opacity="0.95"/>
<circle cx="431.6" cy="239.1" r="2.3" fill="url(#rS1)" fill-opacity="0.95"/>
<circle cx="429.8" cy="252.3" r="2.3" fill="url(#rS1)" fill-opacity="0.95"/>
<circle cx="415.1" cy="236.8" r="2.3" fill="url(#rS1)" fill-opacity="0.95"/>
<circle cx="431.4" cy="241.3" r="2.3" fill="url(#rS1)" fill-opacity="0.95"/>
<circle cx="412.2" cy="245.9" r="2.3" fill="url(#rS1)" fill-opacity="0.95"/>
<circle cx="419.2" cy="256.8" r="2.3" fill="url(#rS1)" fill-opacity="0.95"/>
<circle cx="437.1" cy="254.8" r="2.3" fill="url(#rS1)" fill-opacity="0.95"/>
<circle cx="416.2" cy="254.2" r="2.3" fill="url(#rS1)" fill-opacity="0.95"/>
<circle cx="415.2" cy="256.6" r="2.3" fill="url(#rS1)" fill-opacity="0.95"/>
<circle cx="436.4" cy="240.6" r="2.3" fill="url(#rS1)" fill-opacity="0.95"/>
<circle cx="423.2" cy="235.8" r="2.3" fill="url(#rS1)" fill-opacity="0.95"/>
<circle cx="408.0" cy="245.1" r="2.3" fill="url(#rS1)" fill-opacity="0.95"/>
<circle cx="429.1" cy="248.0" r="2.3" fill="url(#rS1)" fill-opacity="0.95"/>
<circle cx="438.8" cy="240.0" r="2.3" fill="url(#rS1)" fill-opacity="0.95"/>
<circle cx="432.6" cy="235.2" r="2.3" fill="url(#rS1)" fill-opacity="0.95"/>
<circle cx="421.0" cy="237.9" r="2.3" fill="url(#rS1)" fill-opacity="0.95"/>
<circle cx="419.0" cy="236.0" r="2.3" fill="url(#rS1)" fill-opacity="0.95"/>
<circle cx="415.1" cy="248.0" r="2.3" fill="url(#rS1)" fill-opacity="0.95"/>
<circle cx="424.7" cy="234.4" r="2.3" fill="url(#rS1)" fill-opacity="0.95"/>
<circle cx="434.2" cy="251.1" r="2.3" fill="url(#rS1)" fill-opacity="0.95"/>
<circle cx="423.2" cy="240.2" r="2.3" fill="url(#rS1)" fill-opacity="0.95"/>
<circle cx="440.2" cy="239.2" r="2.3" fill="url(#rS1)" fill-opacity="0.95"/>
<circle cx="419.7" cy="242.8" r="2.3" fill="url(#rS1)" fill-opacity="0.95"/>
<circle cx="430.1" cy="244.3" r="2.3" fill="url(#rS1)" fill-opacity="0.95"/>
<circle cx="446.2" cy="248.4" r="2.3" fill="url(#rS1)" fill-opacity="0.95"/>
<circle cx="421.9" cy="252.6" r="2.3" fill="url(#rS1)" fill-opacity="0.95"/>
<circle cx="420.9" cy="249.4" r="2.3" fill="url(#rS1)" fill-opacity="0.95"/>
<circle cx="428.1" cy="239.4" r="2.3" fill="url(#rS1)" fill-opacity="0.95"/>
<circle cx="419.8" cy="239.7" r="2.3" fill="url(#rS1)" fill-opacity="0.95"/>
<circle cx="430.4" cy="232.8" r="2.3" fill="url(#rS1)" fill-opacity="0.95"/>
<circle cx="411.5" cy="241.8" r="2.3" fill="url(#rS1)" fill-opacity="0.95"/>
<circle cx="441.9" cy="251.4" r="2.3" fill="url(#rS1)" fill-opacity="0.95"/>
<circle cx="415.3" cy="249.8" r="2.3" fill="url(#rS1)" fill-opacity="0.95"/>
<circle cx="420.8" cy="255.0" r="2.3" fill="url(#rS1)" fill-opacity="0.95"/>
<circle cx="429.4" cy="238.1" r="2.3" fill="url(#rS1)" fill-opacity="0.95"/>
<circle cx="403.4" cy="239.6" r="2.3" fill="url(#rS1)" fill-opacity="0.95"/>
<circle cx="403.8" cy="245.8" r="2.3" fill="url(#rS1)" fill-opacity="0.95"/>
<circle cx="425.8" cy="244.1" r="2.3" fill="url(#rS1)" fill-opacity="0.95"/>
<circle cx="418.9" cy="238.0" r="2.3" fill="url(#rS1)" fill-opacity="0.95"/>
<circle cx="428.7" cy="256.0" r="2.3" fill="url(#rS1)" fill-opacity="0.95"/>
<circle cx="426.4" cy="238.7" r="2.3" fill="url(#rS1)" fill-opacity="0.95"/>
<circle cx="423.7" cy="256.7" r="2.3" fill="url(#rS1)" fill-opacity="0.95"/>
<circle cx="405.7" cy="255.7" r="2.3" fill="url(#rS1)" fill-opacity="0.95"/>
<circle cx="413.8" cy="249.8" r="2.3" fill="url(#rS1)" fill-opacity="0.95"/>
<circle cx="417.9" cy="248.3" r="2.3" fill="url(#rS1)" fill-opacity="0.95"/>
<circle cx="436.6" cy="256.8" r="2.3" fill="url(#rS1)" fill-opacity="0.95"/>
<circle cx="431.6" cy="245.1" r="2.3" fill="url(#rS1)" fill-opacity="0.95"/>
<circle cx="406.6" cy="251.8" r="2.3" fill="url(#rS1)" fill-opacity="0.95"/>
<circle cx="418.2" cy="250.1" r="2.3" fill="url(#rS1)" fill-opacity="0.95"/>
<circle cx="431.6" cy="252.9" r="2.3" fill="url(#rS1)" fill-opacity="0.95"/>
<circle cx="410.0" cy="237.3" r="2.3" fill="url(#rS1)" fill-opacity="0.95"/>
<circle cx="440.9" cy="247.7" r="2.3" fill="url(#rS1)" fill-opacity="0.95"/>
<circle cx="435.8" cy="235.6" r="2.3" fill="url(#rS1)" fill-opacity="0.95"/>
<circle cx="443.7" cy="253.0" r="2.3" fill="url(#rS1)" fill-opacity="0.95"/>
<circle cx="419.8" cy="253.7" r="2.3" fill="url(#rS1)" fill-opacity="0.95"/>
<circle cx="435.5" cy="246.9" r="2.3" fill="url(#rS1)" fill-opacity="0.95"/>
<circle cx="423.6" cy="260.3" r="2.3" fill="url(#rS1)" fill-opacity="0.95"/>
<circle cx="418.3" cy="243.5" r="2.3" fill="url(#rS1)" fill-opacity="0.95"/>
<circle cx="427.2" cy="241.8" r="2.3" fill="url(#rS1)" fill-opacity="0.95"/>
<circle cx="413.9" cy="240.4" r="2.3" fill="url(#rS1)" fill-opacity="0.95"/>
<circle cx="414.1" cy="238.4" r="2.3" fill="url(#rS1)" fill-opacity="0.95"/>
<circle cx="410.3" cy="244.4" r="2.3" fill="url(#rS1)" fill-opacity="0.95"/>
<circle cx="414.6" cy="244.9" r="2.3" fill="url(#rS1)" fill-opacity="0.95"/>
<circle cx="434.8" cy="240.3" r="2.3" fill="url(#rS1)" fill-opacity="0.95"/>
<circle cx="409.7" cy="254.3" r="2.3" fill="url(#rS1)" fill-opacity="0.95"/>
<circle cx="424.0" cy="243.4" r="2.3" fill="url(#rS1)" fill-opacity="0.95"/>
<circle cx="424.4" cy="247.5" r="2.3" fill="url(#rS1)" fill-opacity="0.95"/>
<circle cx="407.7" cy="243.6" r="2.3" fill="url(#rS1)" fill-opacity="0.95"/>
<circle cx="402.0" cy="243.1" r="2.3" fill="url(#rS1)" fill-opacity="0.95"/>
<circle cx="406.9" cy="247.7" r="2.3" fill="url(#rS1)" fill-opacity="0.95"/>
<circle cx="438.5" cy="249.6" r="2.3" fill="url(#rS1)" fill-opacity="0.95"/>
<circle cx="444.9" cy="255.7" r="2.3" fill="url(#rS1)" fill-opacity="0.95"/>
<circle cx="426.5" cy="246.7" r="2.3" fill="url(#rS1)" fill-opacity="0.95"/>
<circle cx="438.0" cy="258.8" r="2.3" fill="url(#rS1)" fill-opacity="0.95"/>
<circle cx="446.6" cy="246.7" r="2.3" fill="url(#rS1)" fill-opacity="0.95"/>
<circle cx="432.5" cy="263.6" r="2.3" fill="url(#rS1)" fill-opacity="0.95"/>
<circle cx="437.2" cy="246.4" r="2.3" fill="url(#rS1)" fill-opacity="0.95"/>
<circle cx="422.7" cy="247.9" r="2.3" fill="url(#rS1)" fill-opacity="0.95"/>
<circle cx="409.8" cy="249.6" r="2.3" fill="url(#rS1)" fill-opacity="0.95"/>
<circle cx="427.1" cy="262.7" r="2.3" fill="url(#rS1)" fill-opacity="0.95"/>
<circle cx="426.3" cy="256.5" r="2.3" fill="url(#rS1)" fill-opacity="0.95"/>
<circle cx="432.6" cy="256.2" r="2.3" fill="url(#rS1)" fill-opacity="0.95"/>
<circle cx="413.8" cy="258.1" r="2.3" fill="url(#rS1)" fill-opacity="0.95"/>
<circle cx="406.9" cy="237.5" r="2.3" fill="url(#rS1)" fill-opacity="0.95"/>
<circle cx="445.3" cy="245.7" r="2.3" fill="url(#rS1)" fill-opacity="0.95"/>
<circle cx="433.4" cy="244.1" r="2.3" fill="url(#rS1)" fill-opacity="0.95"/>
<circle cx="443.0" cy="245.7" r="2.3" fill="url(#rS1)" fill-opacity="0.95"/>
<circle cx="411.9" cy="250.8" r="2.3" fill="url(#rS1)" fill-opacity="0.95"/>
<circle cx="444.2" cy="250.7" r="2.3" fill="url(#rS1)" fill-opacity="0.95"/>
<circle cx="441.9" cy="259.2" r="2.3" fill="url(#rS1)" fill-opacity="0.95"/>
<circle cx="413.2" cy="248.3" r="2.3" fill="url(#rS1)" fill-opacity="0.95"/>
<circle cx="434.4" cy="261.2" r="2.3" fill="url(#rS1)" fill-opacity="0.95"/>
<circle cx="430.6" cy="265.0" r="2.3" fill="url(#rS1)" fill-opacity="0.95"/>
<circle cx="423.5" cy="255.1" r="2.3" fill="url(#rS1)" fill-opacity="0.95"/>
<circle cx="425.0" cy="236.8" r="2.3" fill="url(#rS1)" fill-opacity="0.95"/>
<circle cx="417.7" cy="254.8" r="2.3" fill="url(#rS1)" fill-opacity="0.95"/>
<circle cx="433.4" cy="245.9" r="2.3" fill="url(#rS1)" fill-opacity="0.95"/>
<circle cx="427.5" cy="237.4" r="2.3" fill="url(#rS1)" fill-opacity="0.95"/>
<circle cx="421.4" cy="241.4" r="2.3" fill="url(#rS1)" fill-opacity="0.95"/>
<circle cx="402.1" cy="241.4" r="2.3" fill="url(#rS1)" fill-opacity="0.95"/>
<circle cx="407.7" cy="254.2" r="2.3" fill="url(#rS1)" fill-opacity="0.95"/>
<circle cx="420.2" cy="247.9" r="2.3" fill="url(#rS1)" fill-opacity="0.95"/>
<circle cx="437.7" cy="236.1" r="2.3" fill="url(#rS1)" fill-opacity="0.95"/>
<circle cx="422.0" cy="243.4" r="2.3" fill="url(#rS1)" fill-opacity="0.95"/>
<circle cx="428.5" cy="250.1" r="2.3" fill="url(#rS1)" fill-opacity="0.95"/>
<circle cx="408.6" cy="247.8" r="2.3" fill="url(#rS1)" fill-opacity="0.95"/>
<circle cx="417.3" cy="237.7" r="2.3" fill="url(#rS1)" fill-opacity="0.95"/>
<circle cx="424.7" cy="239.0" r="2.3" fill="url(#rS1)" fill-opacity="0.95"/>
<circle cx="430.5" cy="255.3" r="2.3" fill="url(#rS1)" fill-opacity="0.95"/>
<circle cx="425.0" cy="246.0" r="2.3" fill="url(#rS1)" fill-opacity="0.95"/>
<circle cx="418.1" cy="240.0" r="2.3" fill="url(#rS1)" fill-opacity="0.95"/>
<circle cx="420.9" cy="245.2" r="2.3" fill="url(#rS1)" fill-opacity="0.95"/>
<circle cx="438.7" cy="247.4" r="2.3" fill="url(#rS1)" fill-opacity="0.95"/>
<circle cx="404.7" cy="242.4" r="2.3" fill="url(#rS1)" fill-opacity="0.95"/>
<circle cx="442.5" cy="256.0" r="2.3" fill="url(#rS1)" fill-opacity="0.95"/>
<circle cx="422.7" cy="220.4" r="2.3" fill="url(#rS1)"/>
<circle cx="423" cy="224.7" r="2.3" fill="url(#rS1)"/>
<circle cx="427.4" cy="226.4" r="2.3" fill="url(#rS1)"/>
<circle cx="430.3" cy="229" r="2.3" fill="url(#rS1)"/>
<circle cx="426.5" cy="265.4" r="2.3" fill="url(#rS1)"/>
<circle cx="427.4" cy="270.6" r="2.3" fill="url(#rS1)"/>
<circle cx="442" cy="269.7" r="2.3" fill="url(#rS1)"/>
<circle cx="433" cy="274.9" r="2.3" fill="url(#rS1)"/>
<circle cx="398" cy="249.8" r="2.3" fill="url(#rS1)"/>
<circle cx="416" cy="262" r="2.3" fill="url(#rS1)"/>
<circle cx="437" cy="264" r="2.3" fill="url(#rS1)"/>
<text  transform="translate(347.2,322.2) rotate(45)" font-size="5.7" text-anchor="middle" style="fill:#111;stroke:#111;stroke-width:0.12">t-SNE2</text>
<text  transform="translate(462.8,312) rotate(-39)" font-size="7.0" text-anchor="middle" style="fill:#111;stroke:#111;stroke-width:0.12">t-SNE1</text>
<text  transform="translate(479.5,273.5) rotate(25)" font-size="4.2" text-anchor="middle" style="fill:#111;stroke:#111;stroke-width:0.12">-10</text>
<text  transform="translate(463,289.5) rotate(25)" font-size="4.2" text-anchor="middle" style="fill:#111;stroke:#111;stroke-width:0.12">-5</text>
<text  transform="translate(442.5,305) rotate(0)" font-size="4.2" text-anchor="middle" style="fill:#111;stroke:#111;stroke-width:0.12">0</text>
<text  transform="translate(417,328.5) rotate(0)" font-size="4.2" text-anchor="middle" style="fill:#111;stroke:#111;stroke-width:0.12">5</text>
<circle cx="506.3" cy="192.5" r="1" fill="#ee5a64"/>
<text class="b" x="512" y="194.15" font-size="4.5">S1</text>
<circle cx="506.3" cy="198.85" r="1" fill="#fcf5bd"/>
<text class="b" x="512" y="200.5" font-size="4.5">S2</text>
<circle cx="506.3" cy="205.2" r="1" fill="#dedef0"/>
<text class="b" x="512" y="206.85" font-size="4.5">S3</text>
<rect x="51.30" y="377.5" width="21.46" height="64.10000000000002" fill="#f0705f"/>
<rect x="72.76" y="377.5" width="21.46" height="64.10000000000002" fill="#f28573"/>
<rect x="94.22" y="377.5" width="21.46" height="64.10000000000002" fill="#a6c8e4"/>
<rect x="115.69" y="377.5" width="21.46" height="64.10000000000002" fill="#8fbbdd"/>
<rect x="137.15" y="377.5" width="21.46" height="64.10000000000002" fill="#7fafd6"/>
<rect x="158.61" y="377.5" width="21.46" height="64.10000000000002" fill="#6a9fcc"/>
<rect x="180.07" y="377.5" width="21.46" height="64.10000000000002" fill="#679dcb"/>
<rect x="201.54" y="377.5" width="21.46" height="64.10000000000002" fill="#5e96c6"/>
<rect x="51.30" y="441.6" width="21.46" height="66.59999999999997" fill="#fbfbfd"/>
<rect x="72.76" y="441.6" width="21.46" height="66.59999999999997" fill="#b5cfe8"/>
<rect x="94.22" y="441.6" width="21.46" height="66.59999999999997" fill="#f8b3a3"/>
<rect x="115.69" y="441.6" width="21.46" height="66.59999999999997" fill="#f7aa99"/>
<rect x="137.15" y="441.6" width="21.46" height="66.59999999999997" fill="#f5907d"/>
<rect x="158.61" y="441.6" width="21.46" height="66.59999999999997" fill="#ee4536"/>
<rect x="180.07" y="441.6" width="21.46" height="66.59999999999997" fill="#f06a5a"/>
<rect x="201.54" y="441.6" width="21.46" height="66.59999999999997" fill="#f59482"/>
<rect x="51.30" y="508.2" width="21.46" height="65.40000000000003" fill="#7dadd5"/>
<rect x="72.76" y="508.2" width="21.46" height="65.40000000000003" fill="#c8dbee"/>
<rect x="94.22" y="508.2" width="21.46" height="65.40000000000003" fill="#fbc9bd"/>
<rect x="115.69" y="508.2" width="21.46" height="65.40000000000003" fill="#fac0b2"/>
<rect x="137.15" y="508.2" width="21.46" height="65.40000000000003" fill="#fac4b7"/>
<rect x="158.61" y="508.2" width="21.46" height="65.40000000000003" fill="#fdeae3"/>
<rect x="180.07" y="508.2" width="21.46" height="65.40000000000003" fill="#fbcfc4"/>
<rect x="201.54" y="508.2" width="21.46" height="65.40000000000003" fill="#f9b8a9"/>
<line x1="72.76" y1="377.5" x2="72.76" y2="573.6" stroke="#fff" stroke-width="0.45" opacity="0.75"/>
<line x1="94.22" y1="377.5" x2="94.22" y2="573.6" stroke="#fff" stroke-width="0.45" opacity="0.75"/>
<line x1="115.69" y1="377.5" x2="115.69" y2="573.6" stroke="#fff" stroke-width="0.45" opacity="0.75"/>
<line x1="137.15" y1="377.5" x2="137.15" y2="573.6" stroke="#fff" stroke-width="0.45" opacity="0.75"/>
<line x1="158.61" y1="377.5" x2="158.61" y2="573.6" stroke="#fff" stroke-width="0.45" opacity="0.75"/>
<line x1="180.07" y1="377.5" x2="180.07" y2="573.6" stroke="#fff" stroke-width="0.45" opacity="0.75"/>
<line x1="201.54" y1="377.5" x2="201.54" y2="573.6" stroke="#fff" stroke-width="0.45" opacity="0.75"/>
<line x1="51.3" y1="441.6" x2="223" y2="441.6" stroke="#fff" stroke-width="0.6" opacity="0.8"/>
<line x1="51.3" y1="508.2" x2="223" y2="508.2" stroke="#fff" stroke-width="0.6" opacity="0.8"/>
<text class="b" x="62.03" y="410.85" font-size="11" text-anchor="middle" letter-spacing="0.4" dx="0.2" style="fill:#111">•</text>
<text class="b" x="83.49" y="410.85" font-size="11" text-anchor="middle" letter-spacing="0.4" dx="0.2" style="fill:#111">••</text>
<text class="b" x="104.96" y="410.85" font-size="11" text-anchor="middle" letter-spacing="0.4" dx="0.2" style="fill:#111">•</text>
<text class="b" x="126.42" y="410.85" font-size="11" text-anchor="middle" letter-spacing="0.4" dx="0.2" style="fill:#111">•</text>
<text class="b" x="147.88" y="410.85" font-size="11" text-anchor="middle" letter-spacing="0.4" dx="0.2" style="fill:#111">••</text>
<text class="b" x="169.34" y="410.85" font-size="11" text-anchor="middle" letter-spacing="0.4" dx="0.2" style="fill:#111">••</text>
<text class="b" x="190.81" y="410.85" font-size="11" text-anchor="middle" letter-spacing="0.4" dx="0.2" style="fill:#111">••</text>
<text class="b" x="212.27" y="410.85" font-size="11" text-anchor="middle" letter-spacing="0.4" dx="0.2" style="fill:#111">•••</text>
<text class="b" x="83.49" y="476.20" font-size="11" text-anchor="middle" letter-spacing="0.4" dx="0.2" style="fill:#111">•</text>
<text class="b" x="147.88" y="476.20" font-size="11" text-anchor="middle" letter-spacing="0.4" dx="0.2" style="fill:#111">•</text>
<text class="b" x="169.34" y="476.20" font-size="11" text-anchor="middle" letter-spacing="0.4" dx="0.2" style="fill:#111">•••</text>
<text class="b" x="190.81" y="476.20" font-size="11" text-anchor="middle" letter-spacing="0.4" dx="0.2" style="fill:#111">••</text>
<text class="b" x="212.27" y="476.20" font-size="11" text-anchor="middle" letter-spacing="0.4" dx="0.2" style="fill:#111">••</text>
<text class="b" x="62.03" y="542.20" font-size="11" text-anchor="middle" letter-spacing="0.4" dx="0.2" style="fill:#111">•</text>
<text transform="translate(63.78,575.8) rotate(-90)" font-size="5.2" text-anchor="end" style="fill:#111">pEGFR</text>
<text transform="translate(85.24,575.8) rotate(-90)" font-size="5.2" text-anchor="end" style="fill:#111">MMR</text>
<text transform="translate(106.71,575.8) rotate(-90)" font-size="5.2" text-anchor="end" style="fill:#111">CD8</text>
<text transform="translate(128.17,575.8) rotate(-90)" font-size="5.2" text-anchor="end" style="fill:#111">DEFA-1</text>
<text transform="translate(149.63,575.8) rotate(-90)" font-size="5.2" text-anchor="end" style="fill:#111">CD3</text>
<text transform="translate(171.09,575.8) rotate(-90)" font-size="5.2" text-anchor="end" style="fill:#111">MIB1</text>
<text transform="translate(192.56,575.8) rotate(-90)" font-size="5.2" text-anchor="end" style="fill:#111">FOXP3</text>
<text transform="translate(214.02,575.8) rotate(-90)" font-size="5.2" text-anchor="end" style="fill:#111">HER2</text>
<text transform="translate(229.6,411) rotate(90)" font-size="6" text-anchor="middle" style="fill:#111">T1 (HER2<tspan dy="-1.6" font-size="62%">+</tspan><tspan dy="1.6" font-size="10%">&#160;</tspan>MIB1<tspan dy="-1.6" font-size="62%">+</tspan><tspan dy="1.6" font-size="10%">&#160;</tspan>CD3<tspan dy="-1.6" font-size="62%">+</tspan><tspan dy="1.6" font-size="10%">&#160;</tspan>)</text>
<text transform="translate(229.6,477.5) rotate(90)" font-size="6" text-anchor="middle" style="fill:#111">T2 (HER2<tspan dy="-1.6" font-size="62%">−</tspan><tspan dy="1.6" font-size="10%">&#160;</tspan>MIB1<tspan dy="-1.6" font-size="62%">−</tspan><tspan dy="1.6" font-size="10%">&#160;</tspan>CD3<tspan dy="-1.6" font-size="62%">−</tspan><tspan dy="1.6" font-size="10%">&#160;</tspan>)</text>
<text transform="translate(229.6,540.6) rotate(90)" font-size="6" text-anchor="middle" style="fill:#111">T3 (pEGFR<tspan dy="-1.6" font-size="62%">+</tspan><tspan dy="1.6" font-size="10%">&#160;</tspan>)</text>
<rect x="328.50" y="377" width="21.77" height="65.39999999999998" fill="#f59a88"/>
<rect x="350.27" y="377" width="21.77" height="65.39999999999998" fill="#f9b9ab"/>
<rect x="372.05" y="377" width="21.77" height="65.39999999999998" fill="#f9b9ab"/>
<rect x="393.82" y="377" width="21.77" height="65.39999999999998" fill="#f8b1a2"/>
<rect x="415.60" y="377" width="21.77" height="65.39999999999998" fill="#f9baac"/>
<rect x="437.38" y="377" width="21.77" height="65.39999999999998" fill="#fcddd5"/>
<rect x="459.15" y="377" width="21.77" height="65.39999999999998" fill="#fde6e0"/>
<rect x="480.92" y="377" width="21.77" height="65.39999999999998" fill="#dce7f4"/>
<rect x="328.50" y="442.4" width="21.77" height="67.40000000000003" fill="#f06a5a"/>
<rect x="350.27" y="442.4" width="21.77" height="67.40000000000003" fill="#f5998a"/>
<rect x="372.05" y="442.4" width="21.77" height="67.40000000000003" fill="#fcd5cb"/>
<rect x="393.82" y="442.4" width="21.77" height="67.40000000000003" fill="#f06a5a"/>
<rect x="415.60" y="442.4" width="21.77" height="67.40000000000003" fill="#f38472"/>
<rect x="437.38" y="442.4" width="21.77" height="67.40000000000003" fill="#fac3b7"/>
<rect x="459.15" y="442.4" width="21.77" height="67.40000000000003" fill="#bbd2ea"/>
<rect x="480.92" y="442.4" width="21.77" height="67.40000000000003" fill="#b5cee8"/>
<rect x="328.50" y="509.8" width="21.77" height="66.19999999999999" fill="#2285bd"/>
<rect x="350.27" y="509.8" width="21.77" height="66.19999999999999" fill="#7faed6"/>
<rect x="372.05" y="509.8" width="21.77" height="66.19999999999999" fill="#a9c8e5"/>
<rect x="393.82" y="509.8" width="21.77" height="66.19999999999999" fill="#6fa4d0"/>
<rect x="415.60" y="509.8" width="21.77" height="66.19999999999999" fill="#8db6da"/>
<rect x="437.38" y="509.8" width="21.77" height="66.19999999999999" fill="#bfd5eb"/>
<rect x="459.15" y="509.8" width="21.77" height="66.19999999999999" fill="#e3edf7"/>
<rect x="480.92" y="509.8" width="21.77" height="66.19999999999999" fill="#f7a797"/>
<line x1="350.27" y1="377" x2="350.27" y2="576" stroke="#fff" stroke-width="0.45" opacity="0.75"/>
<line x1="372.05" y1="377" x2="372.05" y2="576" stroke="#fff" stroke-width="0.45" opacity="0.75"/>
<line x1="393.82" y1="377" x2="393.82" y2="576" stroke="#fff" stroke-width="0.45" opacity="0.75"/>
<line x1="415.60" y1="377" x2="415.60" y2="576" stroke="#fff" stroke-width="0.45" opacity="0.75"/>
<line x1="437.38" y1="377" x2="437.38" y2="576" stroke="#fff" stroke-width="0.45" opacity="0.75"/>
<line x1="459.15" y1="377" x2="459.15" y2="576" stroke="#fff" stroke-width="0.45" opacity="0.75"/>
<line x1="480.92" y1="377" x2="480.92" y2="576" stroke="#fff" stroke-width="0.45" opacity="0.75"/>
<line x1="328.5" y1="442.4" x2="502.7" y2="442.4" stroke="#fff" stroke-width="0.6" opacity="0.8"/>
<line x1="328.5" y1="509.8" x2="502.7" y2="509.8" stroke="#fff" stroke-width="0.6" opacity="0.8"/>
<text class="b" x="339.39" y="411.00" font-size="11" text-anchor="middle" letter-spacing="0.4" dx="0.2" style="fill:#111">•</text>
<text class="b" x="339.39" y="477.40" font-size="11" text-anchor="middle" letter-spacing="0.4" dx="0.2" style="fill:#111">••</text>
<text class="b" x="361.16" y="477.40" font-size="11" text-anchor="middle" letter-spacing="0.4" dx="0.2" style="fill:#111">•</text>
<text class="b" x="404.71" y="477.40" font-size="11" text-anchor="middle" letter-spacing="0.4" dx="0.2" style="fill:#111">••</text>
<text class="b" x="426.49" y="477.40" font-size="11" text-anchor="middle" letter-spacing="0.4" dx="0.2" style="fill:#111">•</text>
<text class="b" x="339.39" y="544.20" font-size="11" text-anchor="middle" letter-spacing="0.4" dx="0.2" style="fill:#111">•••</text>
<text class="b" x="361.16" y="544.20" font-size="11" text-anchor="middle" letter-spacing="0.4" dx="0.2" style="fill:#111">••</text>
<text class="b" x="404.71" y="544.20" font-size="11" text-anchor="middle" letter-spacing="0.4" dx="0.2" style="fill:#111">•••</text>
<text class="b" x="426.49" y="544.20" font-size="11" text-anchor="middle" letter-spacing="0.4" dx="0.2" style="fill:#111">••</text>
<text transform="translate(341.14,577.7) rotate(-90)" font-size="5.2" text-anchor="end" style="fill:#111">FOXP3</text>
<text transform="translate(362.91,577.7) rotate(-90)" font-size="5.2" text-anchor="end" style="fill:#111">HER2</text>
<text transform="translate(384.69,577.7) rotate(-90)" font-size="5.2" text-anchor="end" style="fill:#111">DEFA-1</text>
<text transform="translate(406.46,577.7) rotate(-90)" font-size="5.2" text-anchor="end" style="fill:#111">MIB1</text>
<text transform="translate(428.24,577.7) rotate(-90)" font-size="5.2" text-anchor="end" style="fill:#111">CD3</text>
<text transform="translate(450.01,577.7) rotate(-90)" font-size="5.2" text-anchor="end" style="fill:#111">CD8</text>
<text transform="translate(471.79,577.7) rotate(-90)" font-size="5.2" text-anchor="end" style="fill:#111">MMR</text>
<text transform="translate(493.56,577.7) rotate(-90)" font-size="5.2" text-anchor="end" style="fill:#111">pEGFR</text>
<text transform="translate(506.6,411) rotate(90)" font-size="5.65" text-anchor="middle" style="fill:#111">S1 (FOXP3<tspan dy="-1.6" font-size="62%">−</tspan><tspan dy="1.6" font-size="10%">&#160;</tspan>)</text>
<text transform="translate(506.6,477.6) rotate(90)" font-size="5.65" text-anchor="middle" style="fill:#111">S2 (HER2<tspan dy="-1.6" font-size="62%">−</tspan><tspan dy="1.6" font-size="10%">&#160;</tspan>MIB1<tspan dy="-1.6" font-size="62%">−</tspan><tspan dy="1.6" font-size="10%">&#160;</tspan>CD3<tspan dy="-1.6" font-size="62%">−</tspan><tspan dy="1.6" font-size="10%">&#160;</tspan>)</text>
<text transform="translate(506.6,550) rotate(90)" font-size="5.65" text-anchor="middle" style="fill:#111">S3 (HER2<tspan dy="-1.6" font-size="62%">+</tspan><tspan dy="1.6" font-size="10%">&#160;</tspan>MIB1<tspan dy="-1.6" font-size="62%">+</tspan><tspan dy="1.6" font-size="10%">&#160;</tspan>CD3<tspan dy="-1.6" font-size="62%">+</tspan><tspan dy="1.6" font-size="10%">&#160;</tspan>FOXP3<tspan dy="-1.6" font-size="62%">+</tspan><tspan dy="1.6" font-size="10%">&#160;</tspan>)</text>
<text class="b" x="1.7999999999999998" y="444.09999999999997" font-size="5.45">Coefficient</text>
<rect x="2.3" y="447.59999999999997" width="6.5" height="31" rx="1.6" fill="url(#gcoef)"/>
<text x="10.5" y="450.90" font-size="5.2">0.4</text>
<text x="10.5" y="458.00" font-size="5.2">0.2</text>
<text x="10.5" y="465.10" font-size="5.2">0</text>
<text x="10.5" y="472.20" font-size="5.2">-0.2</text>
<text x="10.5" y="479.30" font-size="5.2">-0.4</text>
<text class="b" x="2.9" y="488.2" font-size="5.3">Adjusted.<tspan font-style="italic">P</tspan>.value</text>
<text class="b t" x="9.3" y="497.10" font-size="5" text-anchor="end" letter-spacing="-0.3">*</text>
<text x="10.600000000000001" y="495.90" font-size="5.45"><tspan font-style="italic">P</tspan> &lt; 0.05</text>
<text class="b t" x="9.3" y="503.00" font-size="5" text-anchor="end" letter-spacing="-0.3">**</text>
<text x="10.600000000000001" y="501.80" font-size="5.45"><tspan font-style="italic">P</tspan> &lt; 0.01</text>
<text class="b t" x="9.3" y="508.90" font-size="5" text-anchor="end" letter-spacing="-0.3">***</text>
<text x="10.600000000000001" y="507.70" font-size="5.45"><tspan font-style="italic">P</tspan> &lt; 0.001</text>
<text class="b" x="280.79999999999995" y="446.7" font-size="5.45">Coefficient</text>
<rect x="283.4" y="450.2" width="6.5" height="31" rx="1.6" fill="url(#gcoef)"/>
<text x="291.59999999999997" y="453.50" font-size="5.2">0.4</text>
<text x="291.59999999999997" y="460.60" font-size="5.2">0.2</text>
<text x="291.59999999999997" y="467.70" font-size="5.2">0</text>
<text x="291.59999999999997" y="474.80" font-size="5.2">-0.2</text>
<text x="291.59999999999997" y="481.90" font-size="5.2">-0.4</text>
<text class="b" x="283.2" y="490.8" font-size="5.3">Adjusted.<tspan font-style="italic">P</tspan>.value</text>
<text class="b t" x="290.4" y="499.70" font-size="5" text-anchor="end" letter-spacing="-0.3">*</text>
<text x="291.7" y="498.50" font-size="5.45"><tspan font-style="italic">P</tspan> &lt; 0.05</text>
<text class="b t" x="290.4" y="505.60" font-size="5" text-anchor="end" letter-spacing="-0.3">**</text>
<text x="291.7" y="504.40" font-size="5.45"><tspan font-style="italic">P</tspan> &lt; 0.01</text>
<text class="b t" x="290.4" y="511.50" font-size="5" text-anchor="end" letter-spacing="-0.3">***</text>
<text x="291.7" y="510.30" font-size="5.45"><tspan font-style="italic">P</tspan> &lt; 0.001</text>
<path d="M61.8,703.21 C196.15,703.21 196.15,703.73 330.5,703.73 L330.5,761.95 C196.15,761.95 196.15,761.44 61.8,761.44 Z" fill="#8dc9f2" fill-opacity="0.7"/>
<path d="M61.8,609.20 C196.15,609.20 196.15,609.20 330.5,609.20 L330.5,649.17 C196.15,649.17 196.15,649.17 61.8,649.17 Z" fill="#8390a0" fill-opacity="0.7"/>
<path d="M61.8,676.02 C196.15,676.02 196.15,670.55 330.5,670.55 L330.5,686.62 C196.15,686.62 196.15,692.09 61.8,692.09 Z" fill="#1aa89a" fill-opacity="0.7"/>
<path d="M61.8,653.52 C196.15,653.52 196.15,693.30 330.5,693.30 L330.5,703.73 C196.15,703.73 196.15,663.95 61.8,663.95 Z" fill="#8390a0" fill-opacity="0.7"/>
<path d="M61.8,669.50 C196.15,669.50 196.15,649.17 330.5,649.17 L330.5,655.69 C196.15,655.69 196.15,676.02 61.8,676.02 Z" fill="#1aa89a" fill-opacity="0.7"/>
<path d="M61.8,698.00 C196.15,698.00 196.15,655.69 330.5,655.69 L330.5,660.47 C196.15,660.47 196.15,702.78 61.8,702.78 Z" fill="#8dc9f2" fill-opacity="0.7"/>
<path d="M61.8,649.17 C196.15,649.17 196.15,666.20 330.5,666.20 L330.5,670.55 C196.15,670.55 196.15,653.52 61.8,653.52 Z" fill="#8390a0" fill-opacity="0.7"/>
<path d="M61.8,702.78 C196.15,702.78 196.15,686.62 330.5,686.62 L330.5,687.06 C196.15,687.06 196.15,703.21 61.8,703.21 Z" fill="#8dc9f2" fill-opacity="0.7"/>
<rect x="53.8" y="609.2" width="8.0" height="54.75" fill="#7f90a2"/>
<rect x="53.8" y="669.5" width="8.0" height="22.59" fill="#1aa89a"/>
<rect x="53.8" y="698" width="8.0" height="63.44" fill="#94cbf1"/>
<rect x="330.5" y="609.2" width="7.800000000000011" height="51.27" fill="#ee7b80"/>
<rect x="330.5" y="666.2" width="7.800000000000011" height="20.86" fill="#fdf7c3"/>
<rect x="330.5" y="693.3" width="7.800000000000011" height="68.65" fill="#dcdcf0"/>
<text x="62.6" y="639.6" font-size="7.8">T3(pEGFR<tspan dy="-2.8" font-size="5.4">+</tspan><tspan dy="2.8" font-size="0.5">&#160;</tspan>)</text>
<text x="62.6" y="684.2" font-size="7.8">T2(HER2<tspan dy="-2.8" font-size="5.4">−</tspan><tspan dy="2.8" font-size="0.5">&#160;</tspan>MIB<tspan dy="-2.8" font-size="5.4">−</tspan><tspan dy="2.8" font-size="0.5">&#160;</tspan>CD3<tspan dy="-2.8" font-size="5.4">−</tspan><tspan dy="2.8" font-size="0.5">&#160;</tspan>)</text>
<text x="62.6" y="733.5" font-size="7.8">T1(HER2<tspan dy="-2.8" font-size="5.4">+</tspan><tspan dy="2.8" font-size="0.5">&#160;</tspan>MIB<tspan dy="-2.8" font-size="5.4">+</tspan><tspan dy="2.8" font-size="0.5">&#160;</tspan>CD3<tspan dy="-2.8" font-size="5.4">+</tspan><tspan dy="2.8" font-size="0.5">&#160;</tspan>)</text>
<text x="329.6" y="636.8" font-size="7.8" text-anchor="end">S1(FOXP3<tspan dy="-2.8" font-size="5.4">−</tspan><tspan dy="2.8" font-size="0.5">&#160;</tspan>)</text>
<text x="329.6" y="679" font-size="7.8" text-anchor="end">S2(HER2<tspan dy="-2.8" font-size="5.4">−</tspan><tspan dy="2.8" font-size="0.5">&#160;</tspan>MIB<tspan dy="-2.8" font-size="5.4">−</tspan><tspan dy="2.8" font-size="0.5">&#160;</tspan>CD3<tspan dy="-2.8" font-size="5.4">−</tspan><tspan dy="2.8" font-size="0.5">&#160;</tspan>)</text>
<text x="329.6" y="730.6" font-size="7.8" text-anchor="end">S3(HER2<tspan dy="-2.8" font-size="5.4">+</tspan><tspan dy="2.8" font-size="0.5">&#160;</tspan>MIB<tspan dy="-2.8" font-size="5.4">+</tspan><tspan dy="2.8" font-size="0.5">&#160;</tspan>CD3<tspan dy="-2.8" font-size="5.4">+</tspan><tspan dy="2.8" font-size="0.5">&#160;</tspan>FOXP3<tspan dy="-2.8" font-size="5.4">+</tspan><tspan dy="2.8" font-size="0.5">&#160;</tspan>)</text>
<text class="dj" transform="translate(48.8,686) rotate(-90)" font-size="8.95" text-anchor="middle" style="fill:#222">Samples with tumor classification</text>
<text class="dj" transform="translate(351.6,686) rotate(-90)" font-size="8.95" text-anchor="middle" style="fill:#222">Samples with stroma classification</text>
<text x="263" y="779.8" font-size="9.8" text-anchor="middle" style="fill:#222">Patient distribution in tumor-specific and stroma-specific subtypes</text>
<rect x="39.5" y="787.3" width="421" height="1" fill="#555"/>
<rect x="39.5" y="803.4" width="421" height="0.6" fill="#777"/>
<rect x="39.5" y="855.6" width="421" height="2" fill="#888"/>
<text x="84" y="797" font-size="8" text-anchor="middle">Subtype</text>
<text x="176" y="797" font-size="8" text-anchor="middle">S1 (FOXP3<tspan dy="-2.8" font-size="5.4">−</tspan><tspan dy="2.8" font-size="0.5">&#160;</tspan>)</text>
<text x="272.3" y="797" font-size="8" text-anchor="middle">S2 (HER2<tspan dy="-2.8" font-size="5.4">−</tspan><tspan dy="2.8" font-size="0.5">&#160;</tspan>MIB<tspan dy="-2.8" font-size="5.4">−</tspan><tspan dy="2.8" font-size="0.5">&#160;</tspan>CD3<tspan dy="-2.8" font-size="5.4">−</tspan><tspan dy="2.8" font-size="0.5">&#160;</tspan>)</text>
<text x="391.3" y="797" font-size="8" text-anchor="middle">S3 (HER2<tspan dy="-2.8" font-size="5.4">+</tspan><tspan dy="2.8" font-size="0.5">&#160;</tspan>MIB<tspan dy="-2.8" font-size="5.4">+</tspan><tspan dy="2.8" font-size="0.5">&#160;</tspan>CD3<tspan dy="-2.8" font-size="5.4">+</tspan><tspan dy="2.8" font-size="0.5">&#160;</tspan>FOXP3<tspan dy="-2.8" font-size="5.4">+</tspan><tspan dy="2.8" font-size="0.5">&#160;</tspan>)</text>
<text x="43.8" y="814.5" font-size="8">T1 (HER2<tspan dy="-2.8" font-size="5.4">+</tspan><tspan dy="2.8" font-size="0.5">&#160;</tspan>MIB<tspan dy="-2.8" font-size="5.4">+</tspan><tspan dy="2.8" font-size="0.5">&#160;</tspan>CD3<tspan dy="-2.8" font-size="5.4">+</tspan><tspan dy="2.8" font-size="0.5">&#160;</tspan>)</text>
<text x="175.4" y="814.5" font-size="8" text-anchor="middle">11</text>
<text x="271" y="814.5" font-size="8" text-anchor="middle">1</text>
<text x="391" y="814.5" font-size="8" text-anchor="middle">134</text>
<text x="43.8" y="831.8" font-size="8">T2 (HER2<tspan dy="-2.8" font-size="5.4">−</tspan><tspan dy="2.8" font-size="0.5">&#160;</tspan>MIB<tspan dy="-2.8" font-size="5.4">−</tspan><tspan dy="2.8" font-size="0.5">&#160;</tspan>CD3<tspan dy="-2.8" font-size="5.4">−</tspan><tspan dy="2.8" font-size="0.5">&#160;</tspan>)</text>
<text x="175.4" y="831.8" font-size="8" text-anchor="middle">15</text>
<text x="271" y="831.8" font-size="8" text-anchor="middle">37</text>
<text x="391" y="831.8" font-size="8" text-anchor="middle">0</text>
<text x="43.8" y="849" font-size="8">T3 (pEGFR<tspan dy="-2.8" font-size="5.4">+</tspan><tspan dy="2.8" font-size="0.5">&#160;</tspan>)</text>
<text x="175.4" y="849" font-size="8" text-anchor="middle">92</text>
<text x="271" y="849" font-size="8" text-anchor="middle">10</text>
<text x="391" y="849" font-size="8" text-anchor="middle">24</text>
</svg></body></html>
